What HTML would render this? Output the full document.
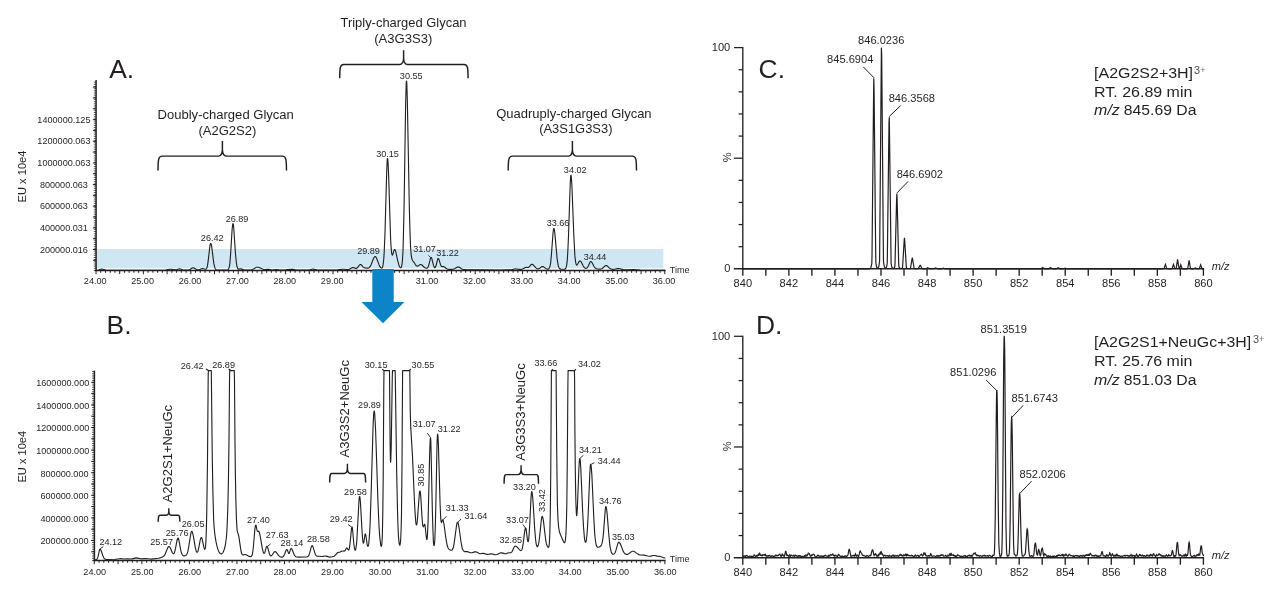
<!DOCTYPE html>
<html lang="en"><head><meta charset="utf-8"><title>Glycan chromatograms and mass spectra</title>
<style>
html,body{margin:0;padding:0;background:#fff;}
body{width:1280px;height:597px;overflow:hidden;}
svg{display:block;font-family:"Liberation Sans",Arial,Helvetica,sans-serif;}
</style></head><body>
<svg width="1280" height="597" viewBox="0 0 1280 597">
<rect width="1280" height="597" fill="#ffffff"/>
<rect x="97" y="249" width="566.3" height="19.3" fill="#cfe7f3"/>
<path d="M96.0,270.2L98.5,270.0L100.9,269.2L101.7,269.1L102.8,269.2L105.7,270.0L108.1,270.2L163.3,270.2L166.0,270.0L169.2,269.3L170.3,269.2L171.5,269.3L174.1,269.9L175.4,269.9L176.6,269.7L178.7,269.0L179.4,268.9L180.4,269.0L182.3,269.8L183.2,270.0L184.5,270.1L186.4,270.1L188.0,270.0L189.1,269.8L190.0,269.4L192.1,268.1L193.1,267.8L194.0,268.0L196.5,269.4L197.8,269.9L198.6,269.9L199.3,269.8L201.6,268.7L202.6,268.5L203.5,268.7L205.0,269.3L205.8,269.3L206.3,268.9L206.7,268.2L207.1,267.2L207.5,265.6L208.2,260.7L209.9,246.0L210.3,244.1L210.5,243.7L210.7,243.5L210.9,243.6L211.1,244.0L211.7,246.6L213.4,260.1L213.9,263.9L214.7,267.2L215.1,268.3L215.4,269.0L215.8,269.5L216.2,269.8L216.8,270.0L217.5,270.1L226.1,270.1L227.6,270.0L228.0,269.8L228.3,269.4L228.9,268.2L229.5,265.8L229.9,263.1L230.6,254.3L232.1,229.6L232.7,224.2L232.9,223.6L233.1,223.6L233.3,224.1L233.5,225.2L233.8,228.7L235.5,254.0L236.3,262.3L236.7,264.9L237.3,267.5L237.8,268.7L238.4,269.1L239.0,269.1L240.3,268.9L241.0,268.9L243.7,269.8L245.2,270.1L247.9,270.1L250.3,270.0L251.5,269.9L252.6,269.5L253.6,269.0L255.8,267.6L256.6,267.3L257.2,267.2L258.1,267.3L259.1,267.5L262.5,269.0L264.0,269.5L265.3,269.6L268.2,269.3L271.0,269.9L272.1,270.0L276.1,269.6L279.9,270.1L283.3,270.1L284.8,270.0L287.7,269.6L291.9,269.4L292.8,269.4L295.3,269.9L296.8,270.1L307.6,270.1L309.7,269.9L312.1,269.2L313.1,269.1L314.0,269.2L316.5,269.9L318.0,270.1L334.1,270.1L337.4,269.9L342.3,269.2L343.8,269.2L347.0,269.5L348.5,269.5L349.7,269.1L352.0,267.8L352.9,267.5L353.7,267.6L355.4,268.4L356.1,268.4L356.7,268.2L357.3,267.8L359.4,265.2L359.9,264.7L360.5,264.5L360.9,264.6L361.4,264.9L363.3,267.1L364.3,267.8L365.0,267.9L368.1,268.1L368.6,268.0L369.2,267.6L370.2,266.5L371.3,264.2L373.0,259.8L373.8,258.0L374.5,256.9L374.9,256.6L375.3,256.5L375.8,256.9L376.6,258.2L378.9,264.4L379.8,266.4L380.4,267.3L381.0,267.8L381.5,268.1L381.9,268.0L382.3,267.6L382.7,266.8L383.2,264.0L383.8,258.4L384.2,252.3L385.0,233.1L386.7,171.5L387.2,160.0L387.4,158.7L387.6,158.6L387.8,159.7L388.0,161.9L388.6,173.9L390.1,223.4L390.6,238.5L391.0,245.8L391.6,252.6L392.0,254.7L392.2,255.1L392.3,255.2L392.5,255.1L392.9,254.1L394.1,250.2L394.4,249.6L394.6,249.5L395.0,249.8L395.4,250.5L395.9,252.4L397.8,261.2L398.8,264.7L399.4,266.2L399.9,267.2L400.5,267.7L400.9,267.7L401.1,267.6L401.4,267.0L401.8,265.6L402.4,261.0L403.0,251.2L403.3,240.2L404.1,205.1L405.6,105.6L406.2,83.9L406.4,81.3L406.6,81.2L406.8,83.1L406.9,86.7L407.3,99.0L409.4,210.5L410.0,232.1L410.5,246.1L411.1,254.1L411.5,257.1L411.9,258.8L412.3,259.8L412.6,260.5L414.0,262.3L415.5,264.8L416.4,265.8L417.0,266.1L417.6,266.1L418.1,265.9L419.8,264.7L420.4,264.5L421.0,264.5L421.9,265.0L424.0,267.0L425.1,267.8L426.3,268.2L426.9,268.2L427.2,268.0L427.6,267.7L428.0,267.1L428.6,265.8L429.1,263.8L430.3,259.1L430.6,258.0L431.0,257.5L431.2,257.5L431.4,257.7L431.8,258.5L433.5,265.4L434.1,266.9L434.6,267.6L435.0,267.6L435.2,267.4L435.8,266.4L436.3,264.5L437.5,259.9L437.8,258.9L438.0,258.6L438.2,258.5L438.6,258.8L439.0,259.6L440.5,264.6L440.9,265.6L441.5,266.4L442.0,266.6L443.2,266.5L443.9,266.6L444.5,267.0L446.0,268.2L446.8,268.7L447.7,269.1L449.0,269.4L451.5,269.4L453.2,269.2L454.5,268.7L457.0,267.3L457.6,267.1L458.1,267.0L458.7,267.1L459.3,267.3L461.5,268.7L462.7,269.2L463.8,269.5L465.5,269.6L498.9,270.0L510.8,269.7L512.2,269.6L514.6,269.0L515.6,268.9L516.7,269.0L519.4,269.4L520.9,269.4L521.8,269.3L522.6,269.0L524.9,267.7L525.6,267.4L526.4,267.3L527.7,267.5L528.5,267.4L528.9,267.2L529.4,266.7L531.1,264.7L531.7,264.3L532.1,264.2L532.6,264.4L533.2,264.8L535.7,267.7L536.4,268.4L537.2,268.8L538.0,268.9L538.9,268.6L539.7,268.2L541.4,266.9L541.9,266.6L542.5,266.5L543.1,266.6L543.6,266.9L545.5,268.3L546.3,268.7L547.2,269.1L548.2,269.1L548.8,268.8L549.1,268.4L549.7,267.2L550.3,264.9L550.7,262.5L551.4,254.9L553.1,232.3L553.5,229.5L553.7,228.8L553.9,228.5L554.1,228.7L554.3,229.2L554.8,232.9L557.1,258.3L557.7,262.6L558.4,266.3L558.8,267.3L559.2,268.1L559.6,268.6L560.1,268.9L560.9,269.1L562.4,269.2L564.3,269.2L565.1,269.0L565.6,268.5L566.0,267.7L566.6,265.6L567.2,261.2L567.5,256.5L567.9,249.8L568.5,236.0L570.2,184.0L570.6,177.4L570.8,175.7L570.9,175.1L571.1,175.5L571.3,176.8L571.9,185.2L573.8,235.1L574.6,250.5L574.9,255.9L575.5,261.3L575.9,263.4L576.1,264.1L576.4,264.9L576.8,265.1L577.2,264.9L577.6,264.3L579.1,261.5L579.7,261.0L580.2,261.0L580.6,261.2L581.2,261.9L583.3,266.0L584.2,267.4L584.8,268.0L585.4,268.3L585.9,268.5L586.3,268.4L587.1,267.9L587.6,267.2L588.2,266.2L589.9,262.4L590.5,261.7L590.9,261.5L591.4,261.8L592.0,262.5L593.9,266.3L594.8,267.7L595.4,268.3L596.0,268.6L596.7,268.9L597.5,269.0L600.1,269.1L600.9,269.0L601.7,268.7L602.8,268.0L605.1,265.8L605.6,265.5L606.0,265.5L606.6,265.6L607.2,265.9L609.4,268.1L610.4,268.7L611.5,269.2L612.7,269.4L614.6,269.3L617.6,268.6L618.7,268.5L620.1,268.7L623.3,269.6L625.9,269.9L628.6,269.8L633.1,269.5L640.3,270.0L664.8,270.2" fill="none" stroke="#231f20" stroke-width="1.12" stroke-linejoin="round" stroke-linecap="round"/>
<line x1="96.10" y1="80.00" x2="96.10" y2="271.30" stroke="#231f20" stroke-width="1.5" stroke-linecap="butt"/>
<line x1="95.20" y1="270.50" x2="665.60" y2="270.50" stroke="#231f20" stroke-width="1.6" stroke-linecap="butt"/>
<path d="M93.80,270.50H96.00M93.80,268.33H96.00M93.80,266.17H96.00M93.80,264.00H96.00M93.80,261.84H96.00M93.80,259.67H96.00M93.80,257.51H96.00M93.80,255.34H96.00M93.80,253.18H96.00M93.80,251.01H96.00M93.80,248.85H96.00M93.80,246.68H96.00M93.80,244.52H96.00M93.80,242.35H96.00M93.80,240.19H96.00M93.80,238.02H96.00M93.80,235.86H96.00M93.80,233.69H96.00M93.80,231.53H96.00M93.80,229.36H96.00M93.80,227.20H96.00M93.80,225.03H96.00M93.80,222.87H96.00M93.80,220.71H96.00M93.80,218.54H96.00M93.80,216.38H96.00M93.80,214.21H96.00M93.80,212.05H96.00M93.80,209.88H96.00M93.80,207.72H96.00M93.80,205.55H96.00M93.80,203.39H96.00M93.80,201.22H96.00M93.80,199.06H96.00M93.80,196.89H96.00M93.80,194.73H96.00M93.80,192.56H96.00M93.80,190.40H96.00M93.80,188.23H96.00M93.80,186.07H96.00M93.80,183.90H96.00M93.80,181.74H96.00M93.80,179.57H96.00M93.80,177.41H96.00M93.80,175.24H96.00M93.80,173.08H96.00M93.80,170.91H96.00M93.80,168.75H96.00M93.80,166.58H96.00M93.80,164.42H96.00M93.80,162.25H96.00M93.80,160.09H96.00M93.80,157.92H96.00M93.80,155.76H96.00M93.80,153.59H96.00M93.80,151.43H96.00M93.80,149.26H96.00M93.80,147.10H96.00M93.80,144.93H96.00M93.80,142.77H96.00M93.80,140.60H96.00M93.80,138.44H96.00M93.80,136.27H96.00M93.80,134.11H96.00M93.80,131.94H96.00M93.80,129.78H96.00M93.80,127.61H96.00M93.80,125.45H96.00M93.80,123.28H96.00M93.80,121.12H96.00M93.80,118.95H96.00M93.80,116.79H96.00M93.80,114.62H96.00M93.80,112.46H96.00M93.80,110.29H96.00M93.80,108.13H96.00M93.80,105.96H96.00M93.80,103.80H96.00M93.80,101.63H96.00M93.80,99.47H96.00M93.80,97.30H96.00M93.80,95.14H96.00M93.80,92.97H96.00M93.80,90.81H96.00M93.80,88.64H96.00M93.80,86.48H96.00M93.80,84.31H96.00M93.80,82.15H96.00" stroke="#231f20" stroke-width="0.75" fill="none"/>
<line x1="92.90" y1="260.32" x2="96.00" y2="260.32" stroke="#231f20" stroke-width="1.0" stroke-linecap="butt"/>
<line x1="92.90" y1="249.50" x2="96.00" y2="249.50" stroke="#231f20" stroke-width="1.0" stroke-linecap="butt"/>
<line x1="92.90" y1="238.68" x2="96.00" y2="238.68" stroke="#231f20" stroke-width="1.0" stroke-linecap="butt"/>
<line x1="92.90" y1="227.85" x2="96.00" y2="227.85" stroke="#231f20" stroke-width="1.0" stroke-linecap="butt"/>
<line x1="92.90" y1="217.03" x2="96.00" y2="217.03" stroke="#231f20" stroke-width="1.0" stroke-linecap="butt"/>
<line x1="92.90" y1="206.20" x2="96.00" y2="206.20" stroke="#231f20" stroke-width="1.0" stroke-linecap="butt"/>
<line x1="92.90" y1="195.38" x2="96.00" y2="195.38" stroke="#231f20" stroke-width="1.0" stroke-linecap="butt"/>
<line x1="92.90" y1="184.55" x2="96.00" y2="184.55" stroke="#231f20" stroke-width="1.0" stroke-linecap="butt"/>
<line x1="92.90" y1="173.73" x2="96.00" y2="173.73" stroke="#231f20" stroke-width="1.0" stroke-linecap="butt"/>
<line x1="92.90" y1="162.90" x2="96.00" y2="162.90" stroke="#231f20" stroke-width="1.0" stroke-linecap="butt"/>
<line x1="92.90" y1="152.08" x2="96.00" y2="152.08" stroke="#231f20" stroke-width="1.0" stroke-linecap="butt"/>
<line x1="92.90" y1="141.25" x2="96.00" y2="141.25" stroke="#231f20" stroke-width="1.0" stroke-linecap="butt"/>
<line x1="92.90" y1="130.43" x2="96.00" y2="130.43" stroke="#231f20" stroke-width="1.0" stroke-linecap="butt"/>
<line x1="92.90" y1="119.60" x2="96.00" y2="119.60" stroke="#231f20" stroke-width="1.0" stroke-linecap="butt"/>
<line x1="92.90" y1="108.78" x2="96.00" y2="108.78" stroke="#231f20" stroke-width="1.0" stroke-linecap="butt"/>
<line x1="92.90" y1="97.95" x2="96.00" y2="97.95" stroke="#231f20" stroke-width="1.0" stroke-linecap="butt"/>
<line x1="92.90" y1="87.13" x2="96.00" y2="87.13" stroke="#231f20" stroke-width="1.0" stroke-linecap="butt"/>
<text transform="translate(63.90,252.70) scale(1.0,1)" font-size="9.1" text-anchor="middle" fill="#231f20">200000.016</text>
<text transform="translate(63.90,231.05) scale(1.0,1)" font-size="9.1" text-anchor="middle" fill="#231f20">400000.031</text>
<text transform="translate(63.90,209.40) scale(1.0,1)" font-size="9.1" text-anchor="middle" fill="#231f20">600000.063</text>
<text transform="translate(63.90,187.75) scale(1.0,1)" font-size="9.1" text-anchor="middle" fill="#231f20">800000.063</text>
<text transform="translate(63.90,166.10) scale(1.0,1)" font-size="9.1" text-anchor="middle" fill="#231f20">1000000.063</text>
<text transform="translate(63.90,144.45) scale(1.0,1)" font-size="9.1" text-anchor="middle" fill="#231f20">1200000.063</text>
<text transform="translate(63.90,122.80) scale(1.0,1)" font-size="9.1" text-anchor="middle" fill="#231f20">1400000.125</text>
<path d="M96.00,270.50v3.7M100.74,270.50v2.3M105.48,270.50v2.3M110.22,270.50v2.3M114.96,270.50v2.3M119.70,270.50v3.7M124.44,270.50v2.3M129.18,270.50v2.3M133.92,270.50v2.3M138.66,270.50v2.3M143.40,270.50v3.7M148.14,270.50v2.3M152.88,270.50v2.3M157.62,270.50v2.3M162.36,270.50v2.3M167.10,270.50v3.7M171.84,270.50v2.3M176.58,270.50v2.3M181.32,270.50v2.3M186.06,270.50v2.3M190.80,270.50v3.7M195.54,270.50v2.3M200.28,270.50v2.3M205.02,270.50v2.3M209.76,270.50v2.3M214.50,270.50v3.7M219.24,270.50v2.3M223.98,270.50v2.3M228.72,270.50v2.3M233.46,270.50v2.3M238.20,270.50v3.7M242.94,270.50v2.3M247.68,270.50v2.3M252.42,270.50v2.3M257.16,270.50v2.3M261.90,270.50v3.7M266.64,270.50v2.3M271.38,270.50v2.3M276.12,270.50v2.3M280.86,270.50v2.3M285.60,270.50v3.7M290.34,270.50v2.3M295.08,270.50v2.3M299.82,270.50v2.3M304.56,270.50v2.3M309.30,270.50v3.7M314.04,270.50v2.3M318.78,270.50v2.3M323.52,270.50v2.3M328.26,270.50v2.3M333.00,270.50v3.7M337.74,270.50v2.3M342.48,270.50v2.3M347.22,270.50v2.3M351.96,270.50v2.3M356.70,270.50v3.7M361.44,270.50v2.3M366.18,270.50v2.3M370.92,270.50v2.3M375.66,270.50v2.3M380.40,270.50v3.7M385.14,270.50v2.3M389.88,270.50v2.3M394.62,270.50v2.3M399.36,270.50v2.3M404.10,270.50v3.7M408.84,270.50v2.3M413.58,270.50v2.3M418.32,270.50v2.3M423.06,270.50v2.3M427.80,270.50v3.7M432.54,270.50v2.3M437.28,270.50v2.3M442.02,270.50v2.3M446.76,270.50v2.3M451.50,270.50v3.7M456.24,270.50v2.3M460.98,270.50v2.3M465.72,270.50v2.3M470.46,270.50v2.3M475.20,270.50v3.7M479.94,270.50v2.3M484.68,270.50v2.3M489.42,270.50v2.3M494.16,270.50v2.3M498.90,270.50v3.7M503.64,270.50v2.3M508.38,270.50v2.3M513.12,270.50v2.3M517.86,270.50v2.3M522.60,270.50v3.7M527.34,270.50v2.3M532.08,270.50v2.3M536.82,270.50v2.3M541.56,270.50v2.3M546.30,270.50v3.7M551.04,270.50v2.3M555.78,270.50v2.3M560.52,270.50v2.3M565.26,270.50v2.3M570.00,270.50v3.7M574.74,270.50v2.3M579.48,270.50v2.3M584.22,270.50v2.3M588.96,270.50v2.3M593.70,270.50v3.7M598.44,270.50v2.3M603.18,270.50v2.3M607.92,270.50v2.3M612.66,270.50v2.3M617.40,270.50v3.7M622.14,270.50v2.3M626.88,270.50v2.3M631.62,270.50v2.3M636.36,270.50v2.3M641.10,270.50v3.7M645.84,270.50v2.3M650.58,270.50v2.3M655.32,270.50v2.3M660.06,270.50v2.3M664.80,270.50v3.7" stroke="#231f20" stroke-width="1" fill="none"/>
<text transform="translate(95.20,284.40) scale(1.0,1)" font-size="9.1" text-anchor="middle" fill="#231f20">24.00</text>
<text transform="translate(142.60,284.40) scale(1.0,1)" font-size="9.1" text-anchor="middle" fill="#231f20">25.00</text>
<text transform="translate(190.00,284.40) scale(1.0,1)" font-size="9.1" text-anchor="middle" fill="#231f20">26.00</text>
<text transform="translate(237.40,284.40) scale(1.0,1)" font-size="9.1" text-anchor="middle" fill="#231f20">27.00</text>
<text transform="translate(284.80,284.40) scale(1.0,1)" font-size="9.1" text-anchor="middle" fill="#231f20">28.00</text>
<text transform="translate(332.20,284.40) scale(1.0,1)" font-size="9.1" text-anchor="middle" fill="#231f20">29.00</text>
<text transform="translate(427.00,284.40) scale(1.0,1)" font-size="9.1" text-anchor="middle" fill="#231f20">31.00</text>
<text transform="translate(474.40,284.40) scale(1.0,1)" font-size="9.1" text-anchor="middle" fill="#231f20">32.00</text>
<text transform="translate(521.80,284.40) scale(1.0,1)" font-size="9.1" text-anchor="middle" fill="#231f20">33.00</text>
<text transform="translate(569.20,284.40) scale(1.0,1)" font-size="9.1" text-anchor="middle" fill="#231f20">34.00</text>
<text transform="translate(616.60,284.40) scale(1.0,1)" font-size="9.1" text-anchor="middle" fill="#231f20">35.00</text>
<text transform="translate(664.00,284.40) scale(1.0,1)" font-size="9.1" text-anchor="middle" fill="#231f20">36.00</text>
<text transform="translate(669.70,273.30) scale(1.0,1)" font-size="9.1" text-anchor="start" fill="#231f20">Time</text>
<text transform="translate(26.20,176.50) rotate(-90) scale(1.0,1)" font-size="11.1" text-anchor="middle" fill="#231f20">EU x 10e4</text>
<text transform="translate(109.20,78.00) scale(1.0,1)" font-size="26.4" text-anchor="start" fill="#231f20">A.</text>
<text transform="translate(403.50,27.00) scale(1.0,1)" font-size="12.95" text-anchor="middle" fill="#231f20">Triply-charged Glycan</text>
<text transform="translate(403.30,42.60) scale(1.0,1)" font-size="13.1" text-anchor="middle" fill="#231f20">(A3G3S3)</text>
<path d="M339.70,78.20 C339.80,67.55 340.10,64.40 343.80,64.40 L399.60,64.40 C402.30,64.40 403.45,62.80 403.60,57.90 L403.60,50.30 M403.60,57.90 C403.75,62.80 404.90,64.40 407.60,64.40 L464.00,64.40 C467.70,64.40 468.00,67.55 468.10,78.20" fill="none" stroke="#231f20" stroke-width="1.45" stroke-linecap="butt" stroke-linejoin="round"/>
<text transform="translate(225.70,118.80) scale(1.0,1)" font-size="13.05" text-anchor="middle" fill="#231f20">Doubly-charged Glycan</text>
<text transform="translate(227.40,134.70) scale(1.0,1)" font-size="13.05" text-anchor="middle" fill="#231f20">(A2G2S2)</text>
<path d="M158.00,170.40 C158.10,159.25 158.40,156.10 162.10,156.10 L218.40,156.10 C221.10,156.10 222.25,154.50 222.40,149.60 L222.40,141.10 M222.40,149.60 C222.55,154.50 223.70,156.10 226.40,156.10 L282.40,156.10 C286.10,156.10 286.40,159.25 286.50,170.40" fill="none" stroke="#231f20" stroke-width="1.45" stroke-linecap="butt" stroke-linejoin="round"/>
<text transform="translate(573.90,117.50) scale(1.0,1)" font-size="13.0" text-anchor="middle" fill="#231f20">Quadruply-charged Glycan</text>
<text transform="translate(575.80,132.80) scale(1.0,1)" font-size="12.95" text-anchor="middle" fill="#231f20">(A3S1G3S3)</text>
<path d="M508.20,170.40 C508.30,159.25 508.60,156.10 512.30,156.10 L568.40,156.10 C571.10,156.10 572.25,154.50 572.40,149.60 L572.40,141.10 M572.40,149.60 C572.55,154.50 573.70,156.10 576.40,156.10 L632.40,156.10 C636.10,156.10 636.40,159.25 636.50,170.40" fill="none" stroke="#231f20" stroke-width="1.45" stroke-linecap="butt" stroke-linejoin="round"/>
<text transform="translate(212.20,241.30) scale(1.0,1)" font-size="9.1" text-anchor="middle" fill="#231f20">26.42</text>
<text transform="translate(237.00,221.50) scale(1.0,1)" font-size="9.1" text-anchor="middle" fill="#231f20">26.89</text>
<text transform="translate(368.50,254.30) scale(1.0,1)" font-size="9.1" text-anchor="middle" fill="#231f20">29.89</text>
<text transform="translate(387.50,156.50) scale(1.0,1)" font-size="9.1" text-anchor="middle" fill="#231f20">30.15</text>
<text transform="translate(411.20,78.80) scale(1.0,1)" font-size="9.1" text-anchor="middle" fill="#231f20">30.55</text>
<text transform="translate(424.50,251.50) scale(1.0,1)" font-size="9.1" text-anchor="middle" fill="#231f20">31.07</text>
<text transform="translate(447.50,255.50) scale(1.0,1)" font-size="9.1" text-anchor="middle" fill="#231f20">31.22</text>
<text transform="translate(558.00,226.20) scale(1.0,1)" font-size="9.1" text-anchor="middle" fill="#231f20">33.66</text>
<text transform="translate(575.20,172.90) scale(1.0,1)" font-size="9.1" text-anchor="middle" fill="#231f20">34.02</text>
<text transform="translate(595.00,259.50) scale(1.0,1)" font-size="9.1" text-anchor="middle" fill="#231f20">34.44</text>
<line x1="428.50" y1="255.40" x2="431.00" y2="257.90" stroke="#231f20" stroke-width="0.9" stroke-linecap="butt"/>
<path d="M372.3,269.1H393.7V301.9H404.4L383,323.3L361.5,301.9H372.3Z" fill="#0c84c8"/>
<path d="M94.3,559.7L95.6,559.7L96.4,559.5L97.0,559.1L97.3,558.6L97.7,557.7L98.1,556.4L99.4,550.3L99.8,549.3L100.0,549.2L100.4,549.4L101.0,550.3L102.9,555.8L103.8,557.8L104.2,558.4L104.8,558.9L105.3,559.2L106.1,559.4L107.8,559.5L114.8,559.3L116.4,559.2L119.2,558.7L120.4,558.6L124.4,559.0L127.6,558.9L131.0,559.0L132.3,558.9L135.0,558.1L136.1,557.9L137.7,558.1L140.7,558.8L142.0,558.9L145.8,558.5L149.6,559.0L151.4,559.1L158.6,558.3L160.9,557.6L162.2,557.1L163.5,556.2L164.1,555.7L164.9,554.6L165.4,553.5L167.7,547.9L168.3,546.9L168.9,546.5L169.0,546.5L169.4,546.7L170.0,547.4L170.6,548.5L172.1,552.2L172.7,553.2L173.2,553.7L173.6,553.7L173.8,553.6L174.4,552.7L174.9,551.0L175.5,548.4L177.0,540.3L177.6,538.5L177.8,538.2L178.0,538.1L178.2,538.2L178.4,538.4L178.9,540.2L180.8,550.3L181.2,551.9L181.8,553.7L182.4,554.8L183.1,555.6L184.1,555.9L185.2,555.8L186.0,555.4L186.7,554.5L187.3,553.2L187.9,551.3L188.8,546.4L190.7,534.1L191.3,531.9L191.7,531.3L191.9,531.3L192.3,531.8L192.8,533.6L193.4,536.4L195.3,547.6L196.1,550.7L196.6,552.0L197.0,552.3L197.4,552.1L197.8,551.5L198.1,550.5L198.7,548.1L200.2,540.2L200.8,538.2L201.2,537.5L201.4,537.5L201.6,537.6L201.8,537.9L202.1,538.9L204.0,547.6L204.6,549.2L204.8,549.3L205.0,549.2L205.4,547.9L205.6,546.5L205.9,541.3L206.3,531.8L206.7,516.0L207.5,460.2L208.2,375.2L208.4,370.6L211.3,370.6L212.2,452.1L212.8,488.3L213.4,510.8L213.7,520.2L214.1,526.6L214.7,533.0L215.3,537.3L216.0,541.7L217.0,546.1L217.9,549.4L218.7,551.3L219.6,552.9L220.2,553.5L220.8,553.8L221.4,553.9L221.9,553.6L222.5,553.1L223.1,552.2L223.6,551.1L224.2,549.5L225.2,546.0L225.7,542.8L226.3,538.2L226.9,531.3L227.2,524.4L227.8,508.4L228.4,481.9L229.0,440.5L229.5,382.1L229.7,370.6L234.3,370.6L234.5,381.4L235.0,443.4L235.4,474.4L235.8,497.2L236.4,518.4L236.8,526.0L237.1,530.1L237.5,532.1L238.3,534.3L238.9,536.9L240.6,548.4L241.3,552.3L241.9,554.0L242.3,554.6L242.7,554.9L243.2,555.0L244.6,554.5L245.3,554.5L246.1,554.8L248.4,556.1L249.1,556.4L250.1,556.6L251.0,556.5L251.4,556.2L251.8,555.7L252.4,554.2L252.9,551.0L253.5,545.8L254.8,529.9L255.4,525.8L255.6,525.3L255.8,525.1L256.0,525.4L256.2,526.0L256.9,529.7L257.3,531.0L257.7,531.5L257.9,531.5L258.4,531.1L258.6,531.1L258.8,531.3L259.6,533.3L260.3,536.6L262.4,548.9L263.2,552.0L263.8,553.2L264.1,553.4L264.3,553.3L264.7,552.7L265.1,551.6L266.2,547.4L266.6,546.6L266.8,546.4L267.0,546.4L267.4,546.9L267.8,547.8L269.5,554.0L270.0,555.3L270.4,555.7L271.0,555.9L271.6,555.6L272.1,555.0L274.0,552.2L274.6,551.7L275.2,551.6L275.8,551.9L276.3,552.4L278.2,555.0L279.2,556.1L280.3,556.8L280.9,557.0L281.6,557.1L282.2,557.1L282.8,556.9L283.4,556.4L283.7,555.9L284.5,554.5L286.0,550.5L286.4,549.8L286.8,549.5L287.0,549.5L287.4,550.0L288.5,553.1L288.9,553.5L289.1,553.5L289.3,553.3L289.6,552.4L290.6,549.2L291.0,548.5L291.2,548.4L291.5,548.6L292.1,549.4L293.8,553.8L294.4,555.1L295.2,556.1L295.9,556.7L296.9,557.0L298.2,557.1L306.2,557.0L306.9,556.9L307.5,556.8L308.3,556.2L309.0,554.9L309.8,552.6L311.3,546.7L311.7,545.9L312.1,545.6L312.5,545.8L313.0,546.9L314.6,552.1L315.3,554.2L315.9,555.3L316.3,555.7L316.6,556.0L317.4,556.2L319.1,556.2L322.0,556.5L322.9,556.4L324.6,556.0L325.6,556.0L326.3,556.1L328.6,556.9L329.8,557.1L332.1,556.7L334.3,556.2L337.8,552.5L340.0,552.1L342.3,551.0L342.9,551.0L344.0,551.1L344.6,551.0L345.2,550.4L346.3,548.3L346.7,548.0L346.9,548.0L347.3,548.4L348.2,549.9L348.4,550.0L348.6,550.0L348.8,549.9L349.2,549.0L349.4,548.2L349.7,546.0L350.3,540.9L351.3,530.6L351.6,527.9L351.8,527.1L352.0,526.9L352.2,527.2L352.6,529.5L353.7,542.5L354.3,547.5L354.7,549.4L354.9,549.9L355.1,550.2L355.3,550.2L355.6,549.5L356.0,547.8L356.4,544.9L356.8,540.7L357.3,531.8L358.9,502.3L359.2,497.9L359.4,496.8L359.6,496.4L359.8,496.7L360.0,497.8L360.4,501.7L362.1,532.4L362.5,537.7L362.9,541.3L363.1,542.4L363.2,543.0L363.4,543.2L363.6,542.9L364.0,541.1L365.0,534.7L365.1,534.1L365.3,533.9L365.5,534.1L365.9,535.5L367.0,543.4L367.4,545.4L367.8,546.4L368.0,546.4L368.2,546.2L368.6,544.7L368.8,543.4L369.1,539.9L369.7,531.7L370.1,524.1L371.0,497.5L372.6,442.4L373.1,425.1L373.7,414.0L373.9,412.0L374.1,411.0L374.3,411.0L374.5,411.7L374.8,415.3L375.6,430.3L377.9,500.0L378.5,514.6L379.0,526.3L379.6,535.0L380.2,541.1L380.6,543.9L380.9,545.7L381.1,546.1L381.3,546.3L381.5,545.9L381.9,543.4L382.3,536.8L382.6,523.1L382.8,512.1L383.2,478.5L383.8,386.3L384.0,370.6L389.5,370.6L390.1,441.7L390.3,453.6L390.4,460.1L390.6,462.1L390.8,460.2L391.2,447.6L392.3,376.8L392.5,370.6L395.0,370.6L395.2,370.7L396.7,473.7L397.5,510.7L397.9,523.2L398.4,535.6L399.0,542.3L399.2,543.6L399.6,545.0L399.8,545.2L400.0,545.1L400.1,544.5L400.5,541.6L400.7,539.0L401.1,530.2L401.5,513.8L402.0,464.8L402.6,370.7L402.8,370.6L409.7,370.6L409.8,371.3L410.2,406.8L410.4,417.0L410.8,428.4L412.5,456.4L414.4,500.1L415.0,511.4L415.7,521.5L416.1,524.1L416.3,524.7L416.5,524.9L416.7,524.6L416.9,523.8L417.3,521.1L417.8,514.4L419.2,495.7L419.5,492.4L419.7,491.5L419.9,491.0L420.1,491.1L420.3,491.9L420.7,495.4L422.0,517.2L422.4,522.2L422.8,525.4L423.0,526.2L423.2,526.7L423.3,526.8L423.5,526.5L424.3,524.6L424.5,524.4L424.7,524.4L424.9,524.7L425.2,526.8L426.4,537.8L426.6,538.9L426.8,539.5L427.0,539.4L427.2,538.5L427.3,536.9L427.5,534.3L428.1,520.8L429.6,456.0L430.0,443.7L430.2,440.0L430.4,438.0L430.6,438.1L430.8,440.6L431.1,452.0L432.3,508.5L432.9,529.9L433.4,541.7L433.6,543.8L433.8,545.1L434.0,545.6L434.2,545.4L434.4,544.5L434.8,540.2L435.3,526.4L435.9,502.6L437.0,445.0L437.4,435.3L437.6,434.0L437.8,434.7L438.0,436.7L438.4,444.6L440.1,504.3L440.5,513.5L440.8,519.4L441.0,521.0L441.2,522.0L441.4,522.4L441.6,522.3L441.8,521.9L442.4,520.0L442.6,519.7L442.7,519.7L442.9,520.0L443.3,521.0L444.1,524.9L445.6,536.3L446.6,542.4L447.3,545.8L448.1,547.9L448.6,548.8L449.2,549.4L450.0,549.9L450.9,550.2L451.5,550.2L452.1,549.9L452.6,549.2L453.0,548.3L453.6,546.3L454.3,542.1L456.1,528.7L456.6,524.9L457.2,522.6L457.4,522.3L457.6,522.2L457.8,522.3L458.2,523.1L458.7,525.6L459.3,529.2L460.8,540.5L461.8,546.1L462.1,547.7L462.7,549.4L463.3,550.6L463.9,551.2L464.2,551.4L464.8,551.6L466.5,551.5L467.5,551.6L468.2,551.9L469.9,552.6L470.9,552.8L472.0,552.8L474.5,551.9L475.7,551.8L476.6,552.0L478.9,553.3L480.0,553.7L480.8,553.7L482.5,553.4L483.3,553.4L484.2,553.6L486.5,554.3L487.6,554.4L488.8,554.3L490.9,553.9L491.8,553.8L492.6,554.0L494.5,554.6L495.8,554.8L497.1,554.5L499.6,553.2L500.6,552.8L501.9,552.9L504.4,553.6L505.5,553.8L506.5,553.6L508.7,552.7L510.5,552.6L511.0,552.5L511.6,552.1L512.2,551.3L514.1,547.3L514.6,546.4L515.0,546.1L515.8,546.2L516.7,546.7L517.5,547.4L519.4,549.6L520.2,550.3L520.7,550.6L521.3,550.5L521.7,550.0L522.1,549.2L522.6,546.9L523.2,543.4L524.7,531.2L525.1,529.1L525.5,528.2L525.7,528.1L525.9,528.5L526.1,529.2L526.4,531.6L527.4,539.3L527.8,541.3L528.0,541.7L528.1,541.7L528.3,541.3L528.5,540.4L528.7,539.0L529.1,534.8L529.7,525.1L531.0,497.9L531.4,493.3L531.6,492.0L531.8,491.6L532.0,491.8L532.1,492.5L532.7,497.4L533.3,505.5L534.6,527.6L535.4,537.3L535.9,542.2L536.3,544.4L536.7,545.8L537.1,546.6L537.3,546.8L537.5,546.8L537.7,546.6L538.2,545.3L538.6,543.7L539.0,541.5L539.6,536.9L541.3,520.3L541.8,517.1L542.0,516.6L542.2,516.4L542.4,516.5L542.8,517.5L543.4,520.6L545.3,536.8L545.8,540.7L546.4,543.7L547.0,545.6L547.4,546.5L547.7,547.1L548.1,547.4L548.3,547.4L548.7,547.0L548.9,546.5L549.3,544.2L549.4,542.1L549.8,534.2L550.2,518.2L550.4,505.6L550.8,467.0L551.4,370.6L556.1,370.6L556.7,449.5L557.1,483.5L557.4,504.0L558.0,519.8L558.6,526.9L559.0,529.5L559.5,532.1L560.3,534.3L563.3,541.3L564.1,542.6L564.5,542.8L564.7,542.8L565.0,542.0L565.4,540.1L565.8,535.9L566.0,532.6L566.4,522.5L566.8,505.6L567.3,461.3L567.9,384.6L568.1,370.6L574.4,370.6L574.6,378.7L574.9,432.1L575.3,469.7L575.7,494.3L575.9,502.5L576.3,512.6L576.5,514.9L576.6,515.7L576.8,515.2L577.0,513.5L577.4,507.4L578.9,468.1L579.3,461.4L579.5,459.5L579.7,458.5L579.9,458.5L580.3,460.7L580.8,468.6L582.7,512.5L583.5,526.9L584.3,536.4L584.6,539.4L585.2,541.9L585.4,542.2L585.6,542.3L585.8,542.2L586.2,541.1L586.7,537.2L587.1,533.0L587.5,527.2L588.1,515.8L589.8,473.8L590.3,465.8L590.5,464.6L590.7,464.2L590.9,464.6L591.3,467.2L591.9,475.4L593.8,517.6L594.7,533.4L595.1,537.7L595.7,542.3L596.2,545.0L596.6,546.1L597.0,546.8L597.6,547.3L598.1,547.3L599.3,547.0L600.4,546.2L601.0,545.7L601.6,544.7L601.9,543.7L602.3,542.2L602.9,538.5L603.5,532.9L605.2,510.2L605.6,507.3L605.7,506.7L605.9,506.6L606.1,507.0L606.5,508.6L607.1,513.4L609.0,536.8L609.9,545.6L610.5,549.0L611.1,551.4L611.8,553.2L612.6,554.1L613.4,554.2L613.9,554.0L614.5,553.6L615.1,552.7L616.0,550.2L617.9,543.4L618.5,542.3L618.9,542.2L619.4,542.6L620.2,543.7L621.0,545.5L622.7,549.9L623.6,551.9L624.2,552.8L624.8,553.5L625.3,554.0L625.9,554.2L626.9,554.4L628.0,554.1L629.1,553.5L631.6,551.6L632.4,551.3L633.1,551.2L633.7,551.3L634.5,551.6L637.9,554.1L638.8,554.6L639.8,554.9L640.7,555.0L644.0,555.1L647.6,556.0L649.1,556.2L650.6,556.1L653.5,555.5L654.6,555.5L657.3,556.1L660.1,556.4L663.2,557.6L664.9,558.0" fill="none" stroke="#231f20" stroke-width="1.12" stroke-linejoin="round" stroke-linecap="round"/>
<line x1="94.40" y1="370.60" x2="94.40" y2="561.30" stroke="#231f20" stroke-width="1.5" stroke-linecap="butt"/>
<line x1="93.50" y1="560.50" x2="665.60" y2="560.50" stroke="#231f20" stroke-width="1.6" stroke-linecap="butt"/>
<path d="M92.10,560.50H94.30M92.10,558.25H94.30M92.10,556.00H94.30M92.10,553.75H94.30M92.10,551.50H94.30M92.10,549.25H94.30M92.10,547.00H94.30M92.10,544.75H94.30M92.10,542.50H94.30M92.10,540.25H94.30M92.10,538.00H94.30M92.10,535.75H94.30M92.10,533.50H94.30M92.10,531.25H94.30M92.10,529.00H94.30M92.10,526.75H94.30M92.10,524.50H94.30M92.10,522.25H94.30M92.10,520.00H94.30M92.10,517.75H94.30M92.10,515.50H94.30M92.10,513.25H94.30M92.10,511.00H94.30M92.10,508.75H94.30M92.10,506.50H94.30M92.10,504.25H94.30M92.10,502.00H94.30M92.10,499.75H94.30M92.10,497.50H94.30M92.10,495.25H94.30M92.10,493.00H94.30M92.10,490.75H94.30M92.10,488.50H94.30M92.10,486.25H94.30M92.10,484.00H94.30M92.10,481.75H94.30M92.10,479.50H94.30M92.10,477.25H94.30M92.10,475.00H94.30M92.10,472.75H94.30M92.10,470.50H94.30M92.10,468.25H94.30M92.10,466.00H94.30M92.10,463.75H94.30M92.10,461.50H94.30M92.10,459.25H94.30M92.10,457.00H94.30M92.10,454.75H94.30M92.10,452.50H94.30M92.10,450.25H94.30M92.10,448.00H94.30M92.10,445.75H94.30M92.10,443.50H94.30M92.10,441.25H94.30M92.10,439.00H94.30M92.10,436.75H94.30M92.10,434.50H94.30M92.10,432.25H94.30M92.10,430.00H94.30M92.10,427.75H94.30M92.10,425.50H94.30M92.10,423.25H94.30M92.10,421.00H94.30M92.10,418.75H94.30M92.10,416.50H94.30M92.10,414.25H94.30M92.10,412.00H94.30M92.10,409.75H94.30M92.10,407.50H94.30M92.10,405.25H94.30M92.10,403.00H94.30M92.10,400.75H94.30M92.10,398.50H94.30M92.10,396.25H94.30M92.10,394.00H94.30M92.10,391.75H94.30M92.10,389.50H94.30M92.10,387.25H94.30M92.10,385.00H94.30M92.10,382.75H94.30M92.10,380.50H94.30M92.10,378.25H94.30M92.10,376.00H94.30M92.10,373.75H94.30M92.10,371.50H94.30" stroke="#231f20" stroke-width="0.75" fill="none"/>
<line x1="91.20" y1="551.80" x2="94.30" y2="551.80" stroke="#231f20" stroke-width="1.0" stroke-linecap="butt"/>
<line x1="91.20" y1="540.50" x2="94.30" y2="540.50" stroke="#231f20" stroke-width="1.0" stroke-linecap="butt"/>
<line x1="91.20" y1="529.20" x2="94.30" y2="529.20" stroke="#231f20" stroke-width="1.0" stroke-linecap="butt"/>
<line x1="91.20" y1="517.90" x2="94.30" y2="517.90" stroke="#231f20" stroke-width="1.0" stroke-linecap="butt"/>
<line x1="91.20" y1="506.60" x2="94.30" y2="506.60" stroke="#231f20" stroke-width="1.0" stroke-linecap="butt"/>
<line x1="91.20" y1="495.30" x2="94.30" y2="495.30" stroke="#231f20" stroke-width="1.0" stroke-linecap="butt"/>
<line x1="91.20" y1="484.00" x2="94.30" y2="484.00" stroke="#231f20" stroke-width="1.0" stroke-linecap="butt"/>
<line x1="91.20" y1="472.70" x2="94.30" y2="472.70" stroke="#231f20" stroke-width="1.0" stroke-linecap="butt"/>
<line x1="91.20" y1="461.40" x2="94.30" y2="461.40" stroke="#231f20" stroke-width="1.0" stroke-linecap="butt"/>
<line x1="91.20" y1="450.10" x2="94.30" y2="450.10" stroke="#231f20" stroke-width="1.0" stroke-linecap="butt"/>
<line x1="91.20" y1="438.80" x2="94.30" y2="438.80" stroke="#231f20" stroke-width="1.0" stroke-linecap="butt"/>
<line x1="91.20" y1="427.50" x2="94.30" y2="427.50" stroke="#231f20" stroke-width="1.0" stroke-linecap="butt"/>
<line x1="91.20" y1="416.20" x2="94.30" y2="416.20" stroke="#231f20" stroke-width="1.0" stroke-linecap="butt"/>
<line x1="91.20" y1="404.90" x2="94.30" y2="404.90" stroke="#231f20" stroke-width="1.0" stroke-linecap="butt"/>
<line x1="91.20" y1="393.60" x2="94.30" y2="393.60" stroke="#231f20" stroke-width="1.0" stroke-linecap="butt"/>
<line x1="91.20" y1="382.30" x2="94.30" y2="382.30" stroke="#231f20" stroke-width="1.0" stroke-linecap="butt"/>
<text transform="translate(88.50,544.30) scale(1.0,1)" font-size="9.1" text-anchor="end" fill="#231f20">200000.000</text>
<text transform="translate(88.50,521.70) scale(1.0,1)" font-size="9.1" text-anchor="end" fill="#231f20">400000.000</text>
<text transform="translate(88.50,499.10) scale(1.0,1)" font-size="9.1" text-anchor="end" fill="#231f20">600000.000</text>
<text transform="translate(88.50,476.50) scale(1.0,1)" font-size="9.1" text-anchor="end" fill="#231f20">800000.000</text>
<text transform="translate(89.30,453.90) scale(1.0,1)" font-size="9.1" text-anchor="end" fill="#231f20">1000000.000</text>
<text transform="translate(89.30,431.30) scale(1.0,1)" font-size="9.1" text-anchor="end" fill="#231f20">1200000.000</text>
<text transform="translate(89.30,408.70) scale(1.0,1)" font-size="9.1" text-anchor="end" fill="#231f20">1400000.000</text>
<text transform="translate(89.30,386.10) scale(1.0,1)" font-size="9.1" text-anchor="end" fill="#231f20">1600000.000</text>
<path d="M94.30,560.50v3.7M99.06,560.50v2.3M103.81,560.50v2.3M108.57,560.50v2.3M113.32,560.50v2.3M118.07,560.50v3.7M122.83,560.50v2.3M127.58,560.50v2.3M132.34,560.50v2.3M137.09,560.50v2.3M141.85,560.50v3.7M146.61,560.50v2.3M151.36,560.50v2.3M156.12,560.50v2.3M160.87,560.50v2.3M165.62,560.50v3.7M170.38,560.50v2.3M175.13,560.50v2.3M179.89,560.50v2.3M184.64,560.50v2.3M189.40,560.50v3.7M194.16,560.50v2.3M198.91,560.50v2.3M203.67,560.50v2.3M208.42,560.50v2.3M213.18,560.50v3.7M217.93,560.50v2.3M222.68,560.50v2.3M227.44,560.50v2.3M232.19,560.50v2.3M236.95,560.50v3.7M241.71,560.50v2.3M246.46,560.50v2.3M251.22,560.50v2.3M255.97,560.50v2.3M260.72,560.50v3.7M265.48,560.50v2.3M270.23,560.50v2.3M274.99,560.50v2.3M279.74,560.50v2.3M284.50,560.50v3.7M289.26,560.50v2.3M294.01,560.50v2.3M298.77,560.50v2.3M303.52,560.50v2.3M308.27,560.50v3.7M313.03,560.50v2.3M317.78,560.50v2.3M322.54,560.50v2.3M327.29,560.50v2.3M332.05,560.50v3.7M336.81,560.50v2.3M341.56,560.50v2.3M346.31,560.50v2.3M351.07,560.50v2.3M355.82,560.50v3.7M360.58,560.50v2.3M365.33,560.50v2.3M370.09,560.50v2.3M374.84,560.50v2.3M379.60,560.50v3.7M384.36,560.50v2.3M389.11,560.50v2.3M393.87,560.50v2.3M398.62,560.50v2.3M403.38,560.50v3.7M408.13,560.50v2.3M412.88,560.50v2.3M417.64,560.50v2.3M422.39,560.50v2.3M427.15,560.50v3.7M431.91,560.50v2.3M436.66,560.50v2.3M441.42,560.50v2.3M446.17,560.50v2.3M450.93,560.50v3.7M455.68,560.50v2.3M460.43,560.50v2.3M465.19,560.50v2.3M469.94,560.50v2.3M474.70,560.50v3.7M479.46,560.50v2.3M484.21,560.50v2.3M488.96,560.50v2.3M493.72,560.50v2.3M498.47,560.50v3.7M503.23,560.50v2.3M507.99,560.50v2.3M512.74,560.50v2.3M517.49,560.50v2.3M522.25,560.50v3.7M527.00,560.50v2.3M531.76,560.50v2.3M536.51,560.50v2.3M541.27,560.50v2.3M546.02,560.50v3.7M550.78,560.50v2.3M555.54,560.50v2.3M560.29,560.50v2.3M565.04,560.50v2.3M569.80,560.50v3.7M574.56,560.50v2.3M579.31,560.50v2.3M584.06,560.50v2.3M588.82,560.50v2.3M593.57,560.50v3.7M598.33,560.50v2.3M603.09,560.50v2.3M607.84,560.50v2.3M612.59,560.50v2.3M617.35,560.50v3.7M622.11,560.50v2.3M626.86,560.50v2.3M631.61,560.50v2.3M636.37,560.50v2.3M641.12,560.50v3.7M645.88,560.50v2.3M650.64,560.50v2.3M655.39,560.50v2.3M660.14,560.50v2.3M664.90,560.50v3.7" stroke="#231f20" stroke-width="1" fill="none"/>
<text transform="translate(94.70,574.80) scale(1.0,1)" font-size="9.1" text-anchor="middle" fill="#231f20">24.00</text>
<text transform="translate(142.25,574.80) scale(1.0,1)" font-size="9.1" text-anchor="middle" fill="#231f20">25.00</text>
<text transform="translate(189.80,574.80) scale(1.0,1)" font-size="9.1" text-anchor="middle" fill="#231f20">26.00</text>
<text transform="translate(237.35,574.80) scale(1.0,1)" font-size="9.1" text-anchor="middle" fill="#231f20">27.00</text>
<text transform="translate(284.90,574.80) scale(1.0,1)" font-size="9.1" text-anchor="middle" fill="#231f20">28.00</text>
<text transform="translate(332.45,574.80) scale(1.0,1)" font-size="9.1" text-anchor="middle" fill="#231f20">29.00</text>
<text transform="translate(380.00,574.80) scale(1.0,1)" font-size="9.1" text-anchor="middle" fill="#231f20">30.00</text>
<text transform="translate(427.55,574.80) scale(1.0,1)" font-size="9.1" text-anchor="middle" fill="#231f20">31.00</text>
<text transform="translate(475.10,574.80) scale(1.0,1)" font-size="9.1" text-anchor="middle" fill="#231f20">32.00</text>
<text transform="translate(522.65,574.80) scale(1.0,1)" font-size="9.1" text-anchor="middle" fill="#231f20">33.00</text>
<text transform="translate(570.20,574.80) scale(1.0,1)" font-size="9.1" text-anchor="middle" fill="#231f20">34.00</text>
<text transform="translate(617.75,574.80) scale(1.0,1)" font-size="9.1" text-anchor="middle" fill="#231f20">35.00</text>
<text transform="translate(665.30,574.80) scale(1.0,1)" font-size="9.1" text-anchor="middle" fill="#231f20">36.00</text>
<text transform="translate(669.70,561.60) scale(1.0,1)" font-size="9.1" text-anchor="start" fill="#231f20">Time</text>
<text transform="translate(26.20,456.70) rotate(-90) scale(1.0,1)" font-size="11.1" text-anchor="middle" fill="#231f20">EU x 10e4</text>
<text transform="translate(106.60,333.60) scale(1.0,1)" font-size="26.4" text-anchor="start" fill="#231f20">B.</text>
<text transform="translate(171.80,502.40) rotate(-90) scale(1.0,1)" font-size="13.05" text-anchor="start" fill="#231f20">A2G2S1+NeuGc</text>
<text transform="translate(348.90,457.50) rotate(-90) scale(1.0,1)" font-size="13.05" text-anchor="start" fill="#231f20">A3G3S2+NeuGc</text>
<text transform="translate(525.20,460.80) rotate(-90) scale(1.0,1)" font-size="13.05" text-anchor="start" fill="#231f20">A3G3S3+NeuGc</text>
<path d="M158.20,521.70 C158.30,516.28 158.60,515.20 160.00,515.20 L166.40,515.20 C168.02,515.20 168.65,514.24 168.80,511.30 L168.80,508.20 M168.80,511.30 C168.95,514.24 169.58,515.20 171.20,515.20 L178.10,515.20 C179.50,515.20 179.80,516.28 179.90,521.70" fill="none" stroke="#231f20" stroke-width="1.45" stroke-linecap="butt" stroke-linejoin="round"/>
<path d="M329.70,482.60 C329.80,474.67 330.10,473.50 331.60,473.50 L344.20,473.50 C346.36,473.50 347.25,472.22 347.40,468.30 L347.40,463.80 M347.40,468.30 C347.55,472.22 348.44,473.50 350.60,473.50 L363.70,473.50 C365.20,473.50 365.50,474.67 365.60,482.60" fill="none" stroke="#231f20" stroke-width="1.45" stroke-linecap="butt" stroke-linejoin="round"/>
<path d="M504.10,483.80 C504.20,475.77 504.50,474.60 506.00,474.60 L517.90,474.60 C520.06,474.60 520.95,473.32 521.10,469.40 L521.10,465.30 M521.10,469.40 C521.25,473.32 522.14,474.60 524.30,474.60 L536.60,474.60 C538.10,474.60 538.40,475.77 538.50,483.80" fill="none" stroke="#231f20" stroke-width="1.45" stroke-linecap="butt" stroke-linejoin="round"/>
<text transform="translate(99.40,544.80) scale(1.0,1)" font-size="9.1" text-anchor="start" fill="#231f20">24.12</text>
<line x1="100.20" y1="548.70" x2="103.30" y2="546.70" stroke="#231f20" stroke-width="0.9" stroke-linecap="butt"/>
<text transform="translate(150.20,544.50) scale(1.0,1)" font-size="9.1" text-anchor="start" fill="#231f20">25.57</text>
<text transform="translate(165.80,535.90) scale(1.0,1)" font-size="9.1" text-anchor="start" fill="#231f20">25.76</text>
<text transform="translate(181.70,527.30) scale(1.0,1)" font-size="9.1" text-anchor="start" fill="#231f20">26.05</text>
<text transform="translate(180.80,368.70) scale(1.0,1)" font-size="9.1" text-anchor="start" fill="#231f20">26.42</text>
<line x1="205.90" y1="369.00" x2="208.60" y2="370.40" stroke="#231f20" stroke-width="1.15" stroke-linecap="butt"/>
<text transform="translate(212.20,367.50) scale(1.0,1)" font-size="9.1" text-anchor="start" fill="#231f20">26.89</text>
<line x1="228.60" y1="369.00" x2="231.00" y2="370.40" stroke="#231f20" stroke-width="1.15" stroke-linecap="butt"/>
<text transform="translate(247.00,523.00) scale(1.0,1)" font-size="9.1" text-anchor="start" fill="#231f20">27.40</text>
<text transform="translate(265.80,538.10) scale(1.0,1)" font-size="9.1" text-anchor="start" fill="#231f20">27.63</text>
<line x1="267.30" y1="546.40" x2="270.50" y2="544.00" stroke="#231f20" stroke-width="0.9" stroke-linecap="butt"/>
<text transform="translate(280.60,546.40) scale(1.0,1)" font-size="9.1" text-anchor="start" fill="#231f20">28.14</text>
<text transform="translate(307.00,541.70) scale(1.0,1)" font-size="9.1" text-anchor="start" fill="#231f20">28.58</text>
<text transform="translate(329.80,521.90) scale(1.0,1)" font-size="9.1" text-anchor="start" fill="#231f20">29.42</text>
<line x1="348.10" y1="524.50" x2="351.20" y2="526.90" stroke="#231f20" stroke-width="0.9" stroke-linecap="butt"/>
<text transform="translate(344.10,494.60) scale(1.0,1)" font-size="9.1" text-anchor="start" fill="#231f20">29.58</text>
<text transform="translate(358.10,407.70) scale(1.0,1)" font-size="9.1" text-anchor="start" fill="#231f20">29.89</text>
<text transform="translate(364.70,367.80) scale(1.0,1)" font-size="9.1" text-anchor="start" fill="#231f20">30.15</text>
<line x1="382.20" y1="369.20" x2="384.00" y2="370.60" stroke="#231f20" stroke-width="1.15" stroke-linecap="butt"/>
<text transform="translate(411.60,367.50) scale(1.0,1)" font-size="9.1" text-anchor="start" fill="#231f20">30.55</text>
<line x1="409.40" y1="370.60" x2="410.80" y2="369.00" stroke="#231f20" stroke-width="1.15" stroke-linecap="butt"/>
<text transform="translate(423.60,486.50) rotate(-90) scale(0.94,1)" font-size="9.7" text-anchor="start" fill="#231f20">30.85</text>
<text transform="translate(412.80,426.90) scale(1.0,1)" font-size="9.1" text-anchor="start" fill="#231f20">31.07</text>
<line x1="427.30" y1="433.10" x2="430.60" y2="437.60" stroke="#231f20" stroke-width="0.9" stroke-linecap="butt"/>
<text transform="translate(437.80,431.60) scale(1.0,1)" font-size="9.1" text-anchor="start" fill="#231f20">31.22</text>
<text transform="translate(445.80,510.50) scale(1.0,1)" font-size="9.1" text-anchor="start" fill="#231f20">31.33</text>
<line x1="443.00" y1="519.80" x2="446.60" y2="516.20" stroke="#231f20" stroke-width="0.9" stroke-linecap="butt"/>
<text transform="translate(464.50,519.00) scale(1.0,1)" font-size="9.1" text-anchor="start" fill="#231f20">31.64</text>
<line x1="458.00" y1="522.20" x2="461.00" y2="519.00" stroke="#231f20" stroke-width="0.9" stroke-linecap="butt"/>
<text transform="translate(499.40,543.40) scale(1.0,1)" font-size="9.1" text-anchor="start" fill="#231f20">32.85</text>
<text transform="translate(506.10,522.50) scale(1.0,1)" font-size="9.1" text-anchor="start" fill="#231f20">33.07</text>
<line x1="522.80" y1="524.40" x2="526.50" y2="529.50" stroke="#231f20" stroke-width="0.9" stroke-linecap="butt"/>
<text transform="translate(513.10,489.70) scale(1.0,1)" font-size="9.1" text-anchor="start" fill="#231f20">33.20</text>
<text transform="translate(545.00,511.90) rotate(-90) scale(0.94,1)" font-size="9.7" text-anchor="start" fill="#231f20">33.42</text>
<text transform="translate(534.50,366.00) scale(1.0,1)" font-size="9.1" text-anchor="start" fill="#231f20">33.66</text>
<line x1="551.30" y1="370.60" x2="553.00" y2="369.30" stroke="#231f20" stroke-width="1.15" stroke-linecap="butt"/>
<text transform="translate(578.00,366.70) scale(1.0,1)" font-size="9.1" text-anchor="start" fill="#231f20">34.02</text>
<line x1="574.40" y1="370.60" x2="576.00" y2="369.20" stroke="#231f20" stroke-width="1.15" stroke-linecap="butt"/>
<text transform="translate(579.00,452.50) scale(1.0,1)" font-size="9.1" text-anchor="start" fill="#231f20">34.21</text>
<line x1="579.80" y1="458.40" x2="583.40" y2="455.30" stroke="#231f20" stroke-width="0.9" stroke-linecap="butt"/>
<text transform="translate(597.80,464.00) scale(1.0,1)" font-size="9.1" text-anchor="start" fill="#231f20">34.44</text>
<line x1="591.30" y1="464.20" x2="594.40" y2="462.70" stroke="#231f20" stroke-width="0.9" stroke-linecap="butt"/>
<text transform="translate(598.90,503.70) scale(1.0,1)" font-size="9.1" text-anchor="start" fill="#231f20">34.76</text>
<text transform="translate(611.90,539.80) scale(1.0,1)" font-size="9.1" text-anchor="start" fill="#231f20">35.03</text>
<path d="M742.8,268.8L868.3,268.8L869.2,268.8L869.9,268.6L870.4,268.3L870.6,267.9L871.1,266.8L871.3,265.9L871.8,263.4L872.0,257.0L873.6,93.5L873.8,78.3L874.1,91.7L875.7,255.2L875.9,263.3L876.4,265.8L876.8,267.4L877.3,268.1L877.5,268.3L877.8,268.3L878.2,267.9L878.7,266.7L878.9,265.8L879.6,261.2L881.4,47.8L881.7,55.0L883.3,244.2L883.5,261.8L884.2,266.1L884.7,267.6L885.1,268.2L885.4,268.3L885.8,268.2L886.3,267.5L886.7,266.2L887.2,264.0L887.4,252.7L889.0,123.0L889.3,117.3L891.1,263.5L891.6,265.9L892.0,267.4L892.5,268.2L893.0,268.5L893.4,268.5L893.9,268.2L894.6,267.2L894.8,266.6L895.0,264.0L896.6,199.4L896.9,193.6L897.1,199.1L898.7,263.6L898.9,266.6L899.6,268.0L900.1,268.4L900.6,268.6L901.0,268.7L901.5,268.6L902.2,268.1L902.4,267.9L902.6,266.7L904.2,240.2L904.5,237.8L904.7,240.2L906.3,266.7L906.5,267.9L907.2,268.5L908.2,268.7L909.1,268.7L910.0,268.6L910.2,268.5L910.5,268.1L912.1,258.6L912.3,257.7L912.5,258.6L914.1,268.1L914.4,268.5L915.1,268.7L916.0,268.8L917.8,268.7L918.3,268.6L919.9,265.5L920.1,265.3L920.4,265.5L922.0,268.6L922.2,268.7L923.8,268.8L925.9,268.7L927.7,267.7L929.6,268.7L931.0,268.8L933.7,268.7L935.6,267.9L937.4,268.7L938.8,268.8L941.3,268.8L943.2,268.1L945.0,268.8L946.4,268.8L1039.9,268.8L1041.0,268.8L1042.7,267.5L1044.3,268.8L1047.7,268.8L1048.9,268.8L1050.5,267.5L1052.1,268.8L1053.2,268.8L1056.5,268.8L1058.1,267.7L1059.7,268.8L1060.8,268.8L1063.6,268.8L1065.2,268.1L1066.8,268.8L1068.0,268.8L1162.6,268.8L1164.0,268.6L1165.4,264.4L1166.8,268.6L1167.7,268.8L1169.5,268.8L1171.2,268.8L1172.1,268.6L1173.5,264.4L1174.8,268.6L1175.3,268.7L1175.8,268.6L1176.2,268.4L1177.6,259.3L1179.0,268.4L1179.2,268.5L1179.4,268.6L1179.7,268.4L1180.8,264.8L1182.0,268.5L1182.2,268.7L1183.1,268.8L1186.4,268.8L1187.3,268.7L1187.7,268.5L1189.1,260.4L1190.5,268.5L1191.4,268.8L1193.7,268.8L1195.3,267.9L1197.0,268.8L1198.3,268.8L1199.3,268.6L1200.6,264.8L1202.0,268.6L1203.4,268.8" fill="none" stroke="#231f20" stroke-width="1.2" stroke-linejoin="miter" stroke-linecap="round"/>
<line x1="742.80" y1="47.00" x2="742.80" y2="269.40" stroke="#231f20" stroke-width="1.35" stroke-linecap="butt"/>
<line x1="733.80" y1="268.80" x2="1204.10" y2="268.80" stroke="#231f20" stroke-width="1.4" stroke-linecap="butt"/>
<line x1="738.60" y1="69.72" x2="742.80" y2="69.72" stroke="#231f20" stroke-width="1.25" stroke-linecap="butt"/>
<line x1="738.60" y1="91.84" x2="742.80" y2="91.84" stroke="#231f20" stroke-width="1.25" stroke-linecap="butt"/>
<line x1="738.60" y1="113.96" x2="742.80" y2="113.96" stroke="#231f20" stroke-width="1.25" stroke-linecap="butt"/>
<line x1="738.60" y1="136.08" x2="742.80" y2="136.08" stroke="#231f20" stroke-width="1.25" stroke-linecap="butt"/>
<line x1="733.90" y1="158.20" x2="742.80" y2="158.20" stroke="#231f20" stroke-width="1.25" stroke-linecap="butt"/>
<line x1="738.60" y1="180.32" x2="742.80" y2="180.32" stroke="#231f20" stroke-width="1.25" stroke-linecap="butt"/>
<line x1="738.60" y1="202.44" x2="742.80" y2="202.44" stroke="#231f20" stroke-width="1.25" stroke-linecap="butt"/>
<line x1="738.60" y1="224.56" x2="742.80" y2="224.56" stroke="#231f20" stroke-width="1.25" stroke-linecap="butt"/>
<line x1="738.60" y1="246.68" x2="742.80" y2="246.68" stroke="#231f20" stroke-width="1.25" stroke-linecap="butt"/>
<line x1="734.00" y1="47.60" x2="742.80" y2="47.60" stroke="#231f20" stroke-width="1.25" stroke-linecap="butt"/>
<text transform="translate(730.30,51.30) scale(1.0,1)" font-size="11.1" text-anchor="end" fill="#231f20">100</text>
<text transform="translate(730.30,272.20) scale(1.0,1)" font-size="11.1" text-anchor="end" fill="#231f20">0</text>
<text transform="translate(731.00,157.40) rotate(-90) scale(1.0,1)" font-size="11.1" text-anchor="middle" fill="#231f20">%</text>
<line x1="742.80" y1="268.80" x2="742.80" y2="275.80" stroke="#231f20" stroke-width="1.35" stroke-linecap="butt"/>
<text transform="translate(742.80,287.00) scale(1.0,1)" font-size="11.1" text-anchor="middle" fill="#231f20">840</text>
<line x1="765.83" y1="268.80" x2="765.83" y2="275.80" stroke="#231f20" stroke-width="1.35" stroke-linecap="butt"/>
<line x1="788.86" y1="268.80" x2="788.86" y2="275.80" stroke="#231f20" stroke-width="1.35" stroke-linecap="butt"/>
<text transform="translate(788.86,287.00) scale(1.0,1)" font-size="11.1" text-anchor="middle" fill="#231f20">842</text>
<line x1="811.89" y1="268.80" x2="811.89" y2="275.80" stroke="#231f20" stroke-width="1.35" stroke-linecap="butt"/>
<line x1="834.92" y1="268.80" x2="834.92" y2="275.80" stroke="#231f20" stroke-width="1.35" stroke-linecap="butt"/>
<text transform="translate(834.92,287.00) scale(1.0,1)" font-size="11.1" text-anchor="middle" fill="#231f20">844</text>
<line x1="857.95" y1="268.80" x2="857.95" y2="275.80" stroke="#231f20" stroke-width="1.35" stroke-linecap="butt"/>
<line x1="880.98" y1="268.80" x2="880.98" y2="275.80" stroke="#231f20" stroke-width="1.35" stroke-linecap="butt"/>
<text transform="translate(880.98,287.00) scale(1.0,1)" font-size="11.1" text-anchor="middle" fill="#231f20">846</text>
<line x1="904.01" y1="268.80" x2="904.01" y2="275.80" stroke="#231f20" stroke-width="1.35" stroke-linecap="butt"/>
<line x1="927.04" y1="268.80" x2="927.04" y2="275.80" stroke="#231f20" stroke-width="1.35" stroke-linecap="butt"/>
<text transform="translate(927.04,287.00) scale(1.0,1)" font-size="11.1" text-anchor="middle" fill="#231f20">848</text>
<line x1="950.07" y1="268.80" x2="950.07" y2="275.80" stroke="#231f20" stroke-width="1.35" stroke-linecap="butt"/>
<line x1="973.10" y1="268.80" x2="973.10" y2="275.80" stroke="#231f20" stroke-width="1.35" stroke-linecap="butt"/>
<text transform="translate(973.10,287.00) scale(1.0,1)" font-size="11.1" text-anchor="middle" fill="#231f20">850</text>
<line x1="996.13" y1="268.80" x2="996.13" y2="275.80" stroke="#231f20" stroke-width="1.35" stroke-linecap="butt"/>
<line x1="1019.16" y1="268.80" x2="1019.16" y2="275.80" stroke="#231f20" stroke-width="1.35" stroke-linecap="butt"/>
<text transform="translate(1019.16,287.00) scale(1.0,1)" font-size="11.1" text-anchor="middle" fill="#231f20">852</text>
<line x1="1042.19" y1="268.80" x2="1042.19" y2="275.80" stroke="#231f20" stroke-width="1.35" stroke-linecap="butt"/>
<line x1="1065.22" y1="268.80" x2="1065.22" y2="275.80" stroke="#231f20" stroke-width="1.35" stroke-linecap="butt"/>
<text transform="translate(1065.22,287.00) scale(1.0,1)" font-size="11.1" text-anchor="middle" fill="#231f20">854</text>
<line x1="1088.25" y1="268.80" x2="1088.25" y2="275.80" stroke="#231f20" stroke-width="1.35" stroke-linecap="butt"/>
<line x1="1111.28" y1="268.80" x2="1111.28" y2="275.80" stroke="#231f20" stroke-width="1.35" stroke-linecap="butt"/>
<text transform="translate(1111.28,287.00) scale(1.0,1)" font-size="11.1" text-anchor="middle" fill="#231f20">856</text>
<line x1="1134.31" y1="268.80" x2="1134.31" y2="275.80" stroke="#231f20" stroke-width="1.35" stroke-linecap="butt"/>
<line x1="1157.34" y1="268.80" x2="1157.34" y2="275.80" stroke="#231f20" stroke-width="1.35" stroke-linecap="butt"/>
<text transform="translate(1157.34,287.00) scale(1.0,1)" font-size="11.1" text-anchor="middle" fill="#231f20">858</text>
<line x1="1180.37" y1="268.80" x2="1180.37" y2="275.80" stroke="#231f20" stroke-width="1.35" stroke-linecap="butt"/>
<line x1="1203.40" y1="268.80" x2="1203.40" y2="275.80" stroke="#231f20" stroke-width="1.35" stroke-linecap="butt"/>
<text transform="translate(1203.40,287.00) scale(1.0,1)" font-size="11.1" text-anchor="middle" fill="#231f20">860</text>
<text transform="translate(1211.70,269.70) scale(1.0,1)" font-size="11.1" text-anchor="start" font-style="italic" fill="#231f20">m/z</text>
<text transform="translate(858.10,43.80) scale(1.0,1)" font-size="11.1" text-anchor="start" fill="#231f20">846.0236</text>
<text transform="translate(827.10,63.20) scale(1.0,1)" font-size="11.1" text-anchor="start" fill="#231f20">845.6904</text>
<line x1="863.30" y1="66.90" x2="874.00" y2="77.80" stroke="#231f20" stroke-width="1.0" stroke-linecap="butt"/>
<text transform="translate(888.70,101.70) scale(1.0,1)" font-size="11.1" text-anchor="start" fill="#231f20">846.3568</text>
<line x1="900.50" y1="105.70" x2="889.20" y2="116.50" stroke="#231f20" stroke-width="1.0" stroke-linecap="butt"/>
<text transform="translate(896.70,177.80) scale(1.0,1)" font-size="11.1" text-anchor="start" fill="#231f20">846.6902</text>
<line x1="908.10" y1="181.40" x2="897.00" y2="192.90" stroke="#231f20" stroke-width="1.0" stroke-linecap="butt"/>
<text transform="translate(758.60,77.80) scale(1.0,1)" font-size="26.4" text-anchor="start" fill="#231f20">C.</text>
<text transform="translate(1094.10,78.10) scale(1.045,1)" font-size="15.3" text-anchor="start" fill="#231f20">[A2G2S2+3H]</text>
<text transform="translate(1194.00,74.00) scale(1.0,1)" font-size="10.9" text-anchor="start" fill="#4d4d4f">3</text>
<text transform="translate(1200.20,73.00) scale(1.0,1)" font-size="9.0" text-anchor="start" fill="#6d6e70">+</text>
<text transform="translate(1094.10,96.60) scale(1.045,1)" font-size="15.3" text-anchor="start" fill="#231f20">RT. 26.89 min</text>
<text transform="translate(1094.10,115.30) scale(1.045,1)" font-size="15.3" text-anchor="start" font-style="italic" fill="#231f20">m/z</text>
<text transform="translate(1196.40,115.30) scale(1.03,1)" font-size="15.3" text-anchor="end" fill="#231f20">845.69 Da</text>
<path d="M742.8,556.6L743.0,556.5L743.5,555.8L744.2,555.9L744.4,556.2L744.6,556.1L745.1,556.2L745.3,556.1L745.6,556.5L745.8,556.3L746.0,555.9L746.7,555.4L747.4,555.7L747.9,556.4L748.3,556.7L748.8,556.7L749.0,556.7L749.7,556.1L749.9,556.1L750.2,556.3L750.9,556.4L751.1,556.2L751.6,556.4L752.0,556.6L752.2,556.6L752.7,556.4L753.2,556.4L753.4,556.1L753.6,556.1L754.1,555.1L754.3,555.3L754.5,555.0L754.8,555.5L755.2,556.0L755.5,556.5L755.7,556.2L755.9,556.3L756.2,556.2L756.4,555.8L756.6,556.0L756.8,555.9L757.3,556.2L758.0,554.7L758.2,554.4L758.7,555.5L758.9,555.4L759.4,553.4L759.6,553.2L759.8,553.4L760.3,555.0L760.5,555.3L761.0,555.3L761.2,555.2L761.5,555.5L761.7,555.4L761.9,555.9L762.1,555.9L762.4,555.4L762.6,555.5L762.8,554.8L763.3,555.0L763.5,554.7L764.0,554.6L764.2,554.8L764.4,555.2L764.7,555.3L765.1,554.3L765.4,554.3L765.6,554.7L766.1,556.0L767.0,555.8L767.2,556.1L767.4,556.3L767.7,556.1L768.1,555.5L768.4,555.7L768.6,555.7L768.8,556.1L769.1,555.9L769.3,555.4L769.5,555.3L769.7,555.3L770.2,555.8L770.4,556.4L770.7,556.5L770.9,556.5L771.1,556.7L771.6,556.0L771.8,556.0L772.0,555.8L772.5,556.1L772.7,556.1L773.0,556.3L773.2,556.4L773.4,556.3L773.7,556.3L774.1,556.0L774.6,556.2L774.8,556.5L775.0,556.4L775.7,555.1L776.0,555.0L776.7,556.0L777.1,556.0L777.3,555.8L777.6,555.4L777.8,555.5L778.3,555.2L778.5,555.5L778.7,555.4L779.4,554.3L779.9,554.2L780.6,555.7L781.0,556.3L781.3,556.3L781.5,556.0L782.2,554.0L782.6,554.2L783.1,555.7L783.3,555.8L783.8,556.1L784.0,555.7L784.3,556.0L784.5,556.1L784.9,554.5L785.4,552.0L785.6,551.3L785.9,551.3L786.6,554.8L786.8,555.4L787.5,555.1L787.7,555.5L787.9,555.5L788.4,556.3L788.6,556.4L788.9,556.3L789.1,555.6L789.6,555.0L790.0,556.2L790.5,556.4L790.9,555.1L791.2,555.1L791.4,555.1L791.6,555.5L791.9,555.5L792.3,555.8L792.5,555.8L793.0,556.2L793.9,555.1L794.2,555.4L794.6,556.4L795.5,555.2L795.8,555.3L796.0,555.6L796.5,555.7L796.7,556.0L796.9,555.8L797.4,556.3L797.6,556.2L797.8,556.5L798.1,556.4L798.3,556.1L798.5,556.1L798.8,555.7L799.0,555.7L799.2,556.0L799.7,556.1L799.9,555.6L800.1,555.6L800.4,555.7L800.8,556.4L801.5,556.5L801.8,556.7L802.0,556.4L802.2,556.4L802.7,556.3L802.9,556.6L803.4,556.8L803.6,556.5L804.1,556.5L804.3,556.0L804.5,556.4L804.8,556.4L805.0,556.0L805.2,556.2L805.7,555.0L805.9,554.8L806.1,554.9L806.8,556.1L807.1,555.6L807.3,555.4L807.7,554.2L808.0,554.1L808.2,553.5L808.4,554.0L808.9,554.0L809.1,553.9L809.4,553.8L810.3,556.2L810.5,555.9L810.7,556.0L811.0,556.0L811.2,555.5L811.4,555.7L811.7,555.2L812.1,555.5L812.6,555.0L812.8,554.3L813.0,554.2L813.3,554.4L813.5,554.4L813.7,554.6L814.0,554.4L814.2,554.6L814.9,556.2L815.3,556.6L816.0,556.8L816.3,556.5L816.7,556.5L817.0,556.1L817.2,556.1L817.6,555.3L818.1,555.2L819.0,556.2L819.5,556.3L820.0,556.2L820.2,555.9L820.9,556.0L821.1,556.3L821.3,556.0L821.8,555.9L822.0,556.1L822.3,556.5L822.5,556.7L822.7,556.7L823.2,556.1L823.6,556.3L823.9,556.2L824.1,556.3L824.3,555.8L825.5,555.3L825.9,556.0L826.6,556.1L827.1,556.0L827.6,556.2L827.8,556.1L828.0,556.6L828.5,556.3L828.9,555.4L829.2,555.9L829.4,555.6L829.6,555.9L829.9,555.9L830.1,555.2L830.5,554.8L830.8,554.5L831.0,554.9L831.5,554.8L831.7,555.1L831.9,554.8L832.2,554.8L832.4,554.3L832.8,554.0L833.3,555.0L833.5,555.1L833.8,555.8L834.0,555.7L834.2,556.0L834.5,556.1L834.7,555.7L834.9,556.1L835.4,555.6L835.6,555.6L835.8,555.2L836.1,555.3L836.3,555.8L836.8,556.4L837.0,556.6L837.2,556.5L837.5,556.6L837.7,556.3L838.4,554.4L838.6,554.4L838.8,554.8L839.1,554.8L839.5,555.5L839.8,555.6L840.0,556.3L840.7,556.4L841.1,556.1L841.8,556.3L842.1,556.4L842.3,556.1L842.5,556.1L843.2,556.5L843.4,556.8L843.7,556.8L844.1,556.7L844.6,555.9L845.1,555.7L845.7,556.4L846.2,556.6L846.7,556.0L846.9,556.1L847.1,555.9L847.6,555.7L848.0,554.5L848.3,553.4L848.7,550.3L849.2,549.2L849.4,549.3L849.9,551.2L850.4,554.1L850.8,556.0L851.0,556.6L851.5,556.0L852.0,555.8L852.4,555.9L852.7,555.5L853.1,555.4L853.6,555.5L853.8,555.4L854.0,555.8L854.3,555.8L854.5,556.1L854.7,555.8L855.0,554.9L855.2,554.5L855.4,553.9L855.6,554.3L855.9,555.3L856.3,556.2L856.8,555.4L857.3,555.0L857.7,555.4L858.2,556.3L858.4,556.2L858.6,556.3L859.3,554.2L859.6,552.5L860.0,551.2L860.3,551.0L860.5,551.6L860.7,551.8L860.9,552.5L861.2,552.9L861.4,553.0L861.9,553.8L862.1,554.7L862.6,555.4L863.0,555.5L863.2,555.7L863.5,555.7L863.9,555.4L864.4,555.9L865.1,556.0L865.8,556.5L866.0,556.4L866.5,555.8L866.9,555.5L867.4,555.7L867.6,555.8L867.9,556.1L868.1,556.3L868.3,556.2L868.5,556.4L869.0,556.0L869.2,556.0L869.5,555.6L869.7,555.5L869.9,555.6L870.2,555.3L870.4,555.7L870.6,555.8L871.1,554.7L871.5,552.5L872.2,550.1L872.7,549.8L872.9,550.3L873.8,555.0L874.1,555.5L874.3,554.9L874.8,554.5L875.0,554.2L875.2,554.6L875.5,554.4L875.7,553.9L876.1,554.4L876.6,556.0L876.8,556.0L877.1,556.3L877.3,556.1L877.5,556.2L877.8,555.9L878.0,555.0L878.4,554.5L878.7,554.7L878.9,555.3L879.4,553.9L879.6,553.9L879.8,553.4L880.1,553.9L880.3,554.0L880.5,552.7L881.0,551.7L881.2,551.7L881.4,552.2L881.9,554.1L882.1,554.0L882.4,554.3L882.6,554.1L883.1,555.6L883.5,556.3L883.7,555.9L884.9,555.1L885.1,555.6L885.4,555.7L885.6,556.1L885.8,556.2L886.5,555.7L887.0,555.5L887.4,555.5L888.1,556.4L888.3,556.6L888.6,556.2L888.8,556.2L889.0,555.7L889.3,555.4L889.7,555.8L890.0,556.2L890.7,556.1L891.1,556.6L891.6,556.3L892.0,555.5L892.3,555.4L892.5,555.3L892.7,555.7L893.0,555.8L893.2,556.1L893.4,555.8L893.6,555.2L893.9,555.0L894.8,556.7L895.3,555.8L895.9,555.4L896.6,555.7L896.9,556.2L897.3,556.0L897.8,555.5L898.0,556.0L898.3,556.0L898.5,556.4L898.9,555.9L899.2,555.8L899.4,555.3L900.1,554.3L900.6,555.0L900.8,555.2L901.0,554.8L901.2,554.7L902.2,556.2L902.4,556.1L902.6,555.8L902.9,555.9L903.3,555.0L903.5,555.4L904.0,555.8L904.2,555.7L904.5,555.2L904.7,555.6L905.2,555.5L905.4,555.1L905.6,554.2L905.9,553.9L906.1,554.3L906.5,555.9L906.8,555.8L907.2,554.7L907.5,554.4L908.2,555.6L908.4,555.6L908.6,555.2L909.3,555.4L909.5,555.7L909.8,555.7L910.0,556.0L910.2,556.0L910.7,555.8L910.9,555.6L911.1,555.6L911.4,555.4L911.6,555.4L911.8,555.7L912.1,555.6L912.3,555.9L912.5,555.9L912.8,555.8L913.5,556.7L913.9,556.8L914.4,556.3L915.1,555.1L915.3,554.9L916.0,556.1L916.4,556.1L916.7,555.9L916.9,555.9L917.6,555.6L917.8,555.3L918.1,555.6L918.3,555.6L918.7,556.5L919.0,556.7L919.4,556.3L919.7,555.9L920.1,555.4L920.4,554.9L920.8,554.8L921.3,554.1L921.5,554.1L922.4,555.8L922.7,555.6L922.9,555.7L923.1,555.4L923.4,554.4L923.6,553.7L923.8,553.3L924.0,553.8L924.3,554.1L924.5,553.4L924.7,553.0L925.0,552.9L925.2,553.4L925.7,555.4L925.9,555.2L926.1,555.5L926.3,555.5L926.8,556.0L927.0,555.8L927.3,556.0L927.5,556.0L927.7,556.3L928.2,556.0L928.4,555.6L928.7,555.6L928.9,555.8L929.1,555.8L929.3,556.2L929.8,556.2L930.0,556.0L930.3,555.0L930.7,553.6L931.0,553.8L931.2,554.8L931.6,555.9L932.1,556.0L932.3,556.1L932.6,556.1L932.8,556.3L933.0,556.2L933.3,556.0L934.2,555.8L935.6,556.5L936.0,556.6L936.7,555.7L936.9,555.7L937.2,555.5L937.4,555.6L937.6,556.1L938.1,556.5L938.6,555.8L938.8,555.9L939.0,555.6L939.5,555.9L939.7,555.9L939.9,556.1L940.4,555.7L940.9,554.9L941.1,555.1L941.3,554.8L941.5,554.9L941.8,555.3L942.0,555.4L942.2,555.3L942.5,555.1L942.7,555.1L942.9,554.9L943.2,555.6L943.9,556.3L944.3,556.0L945.2,555.9L945.5,555.3L945.7,555.3L945.9,555.4L946.4,556.3L946.6,556.4L947.1,556.4L947.3,556.1L947.8,555.9L948.0,555.3L948.2,555.7L948.9,556.0L949.1,555.3L949.4,555.0L949.6,554.1L949.8,553.9L950.1,554.6L950.5,555.2L951.2,553.5L951.5,553.9L951.7,555.0L951.9,555.4L952.4,555.3L952.6,555.0L953.1,555.3L953.3,555.0L953.5,555.5L953.8,555.3L954.0,555.4L954.2,555.8L954.4,555.7L954.7,556.0L954.9,555.9L955.1,556.2L955.4,555.9L955.8,556.3L956.1,556.2L956.3,556.4L956.5,556.0L956.7,556.2L957.0,556.1L957.2,555.7L957.4,555.6L957.9,554.7L958.1,555.0L958.6,555.2L959.1,555.7L959.3,555.7L959.5,556.0L960.0,556.3L960.2,556.7L960.4,556.5L960.7,556.6L960.9,556.2L961.1,556.1L961.8,556.6L962.0,556.6L962.5,556.5L963.0,556.2L963.2,556.3L963.4,556.1L963.7,556.1L963.9,555.9L964.1,555.9L964.3,556.1L964.6,555.8L964.8,555.8L965.0,555.6L965.3,555.6L966.0,556.8L966.2,556.9L966.7,556.6L967.1,556.1L967.3,556.4L968.0,556.0L968.3,555.6L968.5,555.6L969.2,555.0L969.4,555.2L969.9,555.9L970.1,555.8L970.8,555.7L971.0,556.3L971.3,555.9L971.5,556.1L971.7,556.0L971.9,555.5L972.2,556.0L972.4,555.3L972.6,555.0L972.9,554.9L973.6,553.5L974.0,553.3L974.3,553.5L974.5,553.6L975.2,552.9L975.4,553.7L975.6,553.9L975.9,554.7L976.1,555.0L976.3,554.9L976.6,555.5L977.0,555.1L977.2,555.4L977.7,555.4L977.9,555.7L978.2,555.4L978.4,555.4L979.3,556.2L979.8,555.9L980.0,555.9L980.2,555.6L981.2,556.0L981.4,556.0L982.1,556.5L982.3,556.2L982.5,556.2L983.0,555.5L983.2,555.4L983.5,555.5L983.7,555.8L984.2,556.0L984.6,555.2L985.1,555.4L985.5,556.2L986.0,556.2L986.9,556.0L987.4,555.5L988.3,556.4L989.2,555.3L989.5,555.3L989.7,555.3L989.9,555.6L990.1,555.7L990.4,556.0L990.6,556.1L990.8,556.1L991.1,556.3L991.5,556.3L992.0,556.6L992.2,556.4L992.4,556.5L992.9,555.1L993.4,555.1L993.6,555.4L993.8,555.4L994.1,555.0L994.3,553.4L994.5,550.3L994.7,545.3L995.2,520.6L996.4,404.0L996.6,392.9L996.8,390.1L997.1,393.4L997.3,404.8L998.2,501.9L998.7,536.6L998.9,545.2L999.4,552.9L1000.0,556.2L1000.3,556.1L1000.5,556.3L1000.7,556.2L1001.2,555.6L1001.4,554.8L1001.7,553.5L1001.9,550.3L1002.1,544.2L1002.3,532.9L1002.8,488.3L1003.7,358.3L1004.0,341.4L1004.2,335.8L1004.4,338.0L1004.7,350.4L1004.9,374.0L1005.6,476.9L1006.0,526.6L1006.3,540.8L1006.5,549.1L1006.7,553.6L1007.0,555.4L1007.2,556.0L1007.4,556.1L1007.6,555.7L1008.1,556.0L1008.6,556.0L1008.8,555.6L1009.0,554.7L1009.3,552.9L1009.5,549.6L1009.7,543.4L1010.2,517.4L1011.1,435.4L1011.3,423.4L1011.6,417.6L1011.8,418.0L1012.0,424.5L1012.3,437.9L1013.2,520.3L1013.6,544.8L1013.9,550.5L1014.1,553.1L1014.3,554.2L1014.8,554.4L1015.5,555.6L1015.9,556.1L1016.6,555.8L1017.1,555.2L1017.3,554.0L1017.5,551.9L1017.8,548.9L1018.2,535.8L1019.2,498.5L1019.4,494.3L1019.6,493.9L1019.9,495.4L1020.1,499.4L1021.0,534.7L1021.5,548.2L1021.7,552.1L1022.2,555.7L1022.4,555.7L1022.6,556.1L1022.8,556.2L1023.3,556.2L1023.5,555.9L1023.8,555.8L1024.2,555.2L1024.5,554.7L1024.9,554.5L1025.4,553.0L1025.8,547.2L1026.8,531.7L1027.0,529.8L1027.2,529.0L1027.5,529.7L1027.7,531.5L1027.9,534.6L1028.8,550.6L1029.5,555.5L1030.0,556.5L1030.4,556.5L1031.1,555.8L1031.4,555.7L1031.6,555.8L1031.8,555.7L1032.1,556.1L1032.7,556.5L1033.0,556.6L1033.2,556.2L1033.4,556.0L1033.7,555.4L1034.1,552.2L1034.8,544.9L1035.1,543.7L1035.3,543.3L1035.5,543.2L1036.0,546.1L1036.4,551.2L1036.9,554.4L1037.4,555.1L1037.6,555.0L1038.0,552.5L1038.3,550.5L1038.5,549.5L1038.7,549.6L1039.0,550.0L1039.2,550.9L1039.7,553.7L1040.1,555.5L1040.3,555.8L1040.6,555.1L1040.8,554.8L1041.3,551.4L1041.7,549.0L1042.0,548.5L1042.2,548.5L1042.4,548.3L1042.9,550.9L1043.3,554.6L1043.8,556.0L1044.0,555.4L1044.3,554.5L1044.7,553.6L1045.0,554.0L1045.4,554.5L1045.6,554.4L1045.9,554.6L1046.3,555.4L1046.6,556.1L1046.8,556.1L1047.3,556.4L1047.5,556.1L1047.7,556.3L1048.2,555.6L1048.6,556.0L1048.9,556.4L1049.1,556.4L1049.3,556.6L1049.8,556.2L1050.0,556.4L1050.3,556.1L1050.7,556.3L1050.9,556.3L1051.2,556.5L1051.6,556.5L1052.1,556.6L1052.8,556.3L1053.0,556.1L1053.2,556.2L1053.9,556.3L1054.2,556.0L1054.9,556.2L1055.8,556.8L1056.2,556.4L1056.5,555.7L1056.9,555.8L1057.4,556.2L1057.9,555.1L1058.1,555.0L1058.5,555.6L1059.0,555.4L1059.2,555.0L1059.5,555.1L1059.7,555.5L1059.9,555.6L1060.4,555.7L1060.6,555.6L1060.8,555.7L1061.3,555.0L1061.8,554.7L1062.0,555.3L1062.2,555.6L1062.5,555.6L1062.9,554.3L1063.1,554.4L1063.8,556.3L1064.1,556.0L1064.5,555.1L1064.8,555.0L1065.0,555.3L1065.2,555.5L1065.5,555.2L1065.9,554.0L1066.1,554.2L1066.8,555.4L1067.1,555.6L1067.3,555.6L1067.8,556.3L1068.0,555.8L1068.2,555.8L1069.1,554.3L1069.6,554.5L1069.8,554.9L1070.5,555.7L1071.0,555.7L1071.2,555.5L1071.7,555.5L1072.4,555.9L1072.6,556.0L1072.8,555.9L1073.1,556.2L1073.3,555.9L1073.7,556.5L1074.0,556.4L1074.2,556.7L1074.4,556.6L1075.1,555.6L1075.4,555.5L1076.0,555.7L1076.3,555.5L1076.5,555.5L1077.0,556.2L1077.2,556.2L1077.7,555.9L1077.9,555.6L1078.1,555.6L1078.6,556.1L1078.8,556.3L1079.3,556.9L1079.5,556.3L1079.7,556.2L1080.2,555.6L1080.9,556.1L1081.6,555.6L1081.8,555.7L1082.0,556.1L1082.5,556.3L1083.0,555.5L1083.2,555.6L1083.4,555.4L1083.6,555.8L1084.1,556.1L1084.3,556.4L1084.6,555.8L1084.8,556.1L1085.0,556.0L1085.3,555.6L1085.5,555.8L1085.9,555.0L1086.2,555.1L1086.4,554.9L1086.6,555.2L1086.9,554.9L1087.1,555.2L1087.6,555.3L1088.0,554.7L1088.2,555.0L1088.5,554.7L1088.7,555.3L1089.4,555.3L1089.9,554.3L1090.1,553.4L1090.3,553.3L1091.9,555.8L1092.4,555.5L1092.9,555.6L1093.1,556.0L1093.5,555.9L1094.0,555.7L1094.2,555.8L1094.5,555.6L1094.7,556.1L1095.4,555.6L1095.6,555.1L1095.8,555.1L1096.1,555.1L1096.5,555.6L1096.8,556.1L1097.2,556.6L1097.5,556.6L1097.7,556.1L1097.9,556.2L1098.2,555.9L1098.4,556.0L1098.6,556.4L1099.3,556.2L1099.8,555.8L1100.0,556.0L1100.2,556.1L1100.7,555.8L1101.1,554.6L1101.8,551.8L1102.1,551.6L1102.3,551.8L1102.5,552.6L1103.0,555.2L1103.2,555.8L1103.4,555.8L1103.7,555.7L1104.4,555.8L1104.6,556.0L1104.8,555.9L1105.3,556.4L1105.5,556.5L1105.8,556.7L1106.0,556.6L1106.4,555.2L1106.9,554.8L1107.1,554.9L1107.4,555.7L1107.6,555.9L1107.8,555.9L1108.1,556.1L1108.5,555.5L1108.7,555.6L1109.2,554.8L1109.7,552.8L1110.1,553.3L1110.6,555.1L1111.0,555.9L1111.3,555.8L1111.5,556.0L1111.7,555.6L1112.2,554.0L1112.4,553.7L1112.9,554.4L1113.1,555.2L1113.4,555.6L1113.6,555.6L1113.8,556.1L1114.0,555.9L1114.3,556.1L1114.7,555.6L1115.0,555.8L1115.2,555.2L1115.7,556.0L1115.9,556.1L1116.1,556.1L1116.6,554.5L1116.8,554.1L1117.0,554.1L1117.5,555.7L1117.7,556.0L1118.0,556.1L1118.4,555.7L1118.6,555.6L1118.9,555.9L1119.1,555.7L1119.3,555.6L1119.6,555.9L1120.5,556.4L1120.7,556.2L1121.0,556.3L1121.4,556.1L1121.6,556.1L1121.9,556.2L1122.6,556.4L1123.7,555.6L1123.9,555.6L1124.2,555.8L1124.4,555.8L1124.9,555.3L1125.1,555.3L1125.6,555.6L1125.8,556.0L1126.0,555.6L1126.7,555.3L1127.2,555.3L1127.4,555.6L1128.1,556.1L1128.3,555.9L1128.6,556.1L1129.0,555.7L1129.5,555.6L1129.9,556.3L1131.1,554.6L1131.3,555.1L1131.5,555.2L1131.8,555.5L1132.0,556.3L1132.2,555.9L1132.5,555.9L1132.9,555.3L1133.2,555.6L1133.6,555.8L1133.8,555.9L1134.1,555.7L1134.5,556.4L1134.8,556.0L1135.0,556.3L1135.5,555.9L1135.7,556.1L1135.9,555.4L1136.6,554.2L1137.5,556.3L1137.8,556.3L1138.0,556.1L1138.2,556.6L1138.5,556.2L1138.9,556.0L1139.6,554.5L1140.1,554.6L1140.5,555.4L1140.8,555.2L1141.0,555.5L1141.2,555.6L1141.4,556.0L1141.7,556.1L1142.1,555.5L1142.4,555.0L1142.6,555.1L1142.8,555.4L1143.3,556.3L1144.0,556.0L1144.2,555.6L1144.4,555.6L1144.7,555.6L1144.9,555.8L1145.4,556.5L1145.6,556.6L1146.1,556.4L1146.7,555.1L1147.0,554.8L1147.4,555.3L1147.7,555.8L1147.9,556.1L1148.1,556.2L1149.0,555.4L1149.5,555.9L1149.7,556.1L1150.4,554.4L1150.7,554.5L1150.9,555.3L1151.1,555.6L1151.4,555.5L1151.8,555.0L1152.3,555.9L1152.5,556.1L1152.7,556.0L1153.2,554.1L1153.4,553.8L1153.7,553.8L1153.9,554.0L1154.3,555.1L1154.6,555.2L1155.0,556.1L1155.3,556.2L1155.5,556.6L1156.0,555.9L1156.4,554.8L1156.6,555.1L1156.9,555.1L1157.1,555.5L1157.3,555.6L1157.6,555.3L1157.8,555.5L1158.3,555.2L1158.7,554.1L1159.2,553.8L1159.6,554.7L1159.9,554.8L1160.1,554.6L1160.3,554.6L1160.8,555.3L1161.0,555.9L1161.3,555.9L1161.7,555.5L1162.2,556.2L1162.4,556.0L1162.6,556.2L1162.9,556.2L1163.1,555.9L1163.3,556.2L1163.6,556.3L1163.8,556.2L1164.0,556.3L1164.5,555.8L1164.7,555.8L1164.9,556.1L1165.2,556.1L1165.4,556.3L1166.3,554.8L1167.2,556.1L1167.5,556.3L1167.9,556.2L1168.2,555.9L1168.6,554.7L1169.1,554.9L1169.5,555.7L1169.8,555.8L1170.0,555.6L1170.5,555.9L1171.2,555.4L1171.6,553.8L1172.1,551.3L1172.3,550.6L1172.5,550.5L1173.0,552.4L1173.5,555.4L1173.7,556.3L1173.9,556.6L1174.2,556.7L1174.6,555.9L1174.8,556.2L1175.1,555.8L1175.3,556.1L1175.5,556.1L1175.8,555.8L1176.0,554.9L1176.9,544.5L1177.1,543.0L1177.4,542.5L1177.6,542.7L1177.8,544.5L1178.5,552.7L1178.8,554.5L1179.2,555.7L1179.9,555.0L1180.1,555.2L1180.6,554.9L1180.8,555.4L1181.3,555.7L1181.5,556.1L1182.0,556.2L1182.4,555.8L1183.1,556.0L1183.6,555.1L1183.8,555.1L1184.3,555.9L1184.5,556.1L1184.7,555.8L1185.2,554.1L1185.4,554.0L1185.7,554.5L1186.1,556.2L1186.4,556.0L1186.6,555.3L1186.8,554.9L1187.0,554.9L1187.3,555.3L1187.5,555.4L1187.7,554.7L1188.0,552.8L1188.7,544.4L1188.9,542.8L1189.1,542.3L1189.4,543.2L1189.6,545.0L1190.0,550.7L1190.5,554.6L1190.7,555.4L1191.2,556.1L1191.4,556.2L1191.7,556.5L1192.3,556.7L1192.6,556.6L1193.3,555.8L1193.7,555.8L1194.0,555.4L1194.2,555.3L1194.4,555.5L1194.6,555.8L1195.1,556.5L1195.3,556.5L1195.8,555.7L1196.3,555.5L1196.5,555.7L1196.7,555.4L1197.0,554.7L1197.2,554.5L1197.6,554.9L1197.9,555.5L1198.1,555.6L1198.6,554.9L1198.8,554.1L1199.5,554.9L1199.7,555.1L1200.2,552.1L1200.6,548.0L1200.9,546.6L1201.1,545.9L1201.3,546.0L1201.6,546.7L1202.2,552.6L1202.5,553.6L1202.7,554.2L1203.2,554.8L1203.4,555.7" fill="none" stroke="#231f20" stroke-width="1.2" stroke-linejoin="miter" stroke-linecap="round"/>
<line x1="742.80" y1="335.70" x2="742.80" y2="558.30" stroke="#231f20" stroke-width="1.35" stroke-linecap="butt"/>
<line x1="733.80" y1="557.70" x2="1204.10" y2="557.70" stroke="#231f20" stroke-width="1.4" stroke-linecap="butt"/>
<line x1="738.60" y1="358.44" x2="742.80" y2="358.44" stroke="#231f20" stroke-width="1.25" stroke-linecap="butt"/>
<line x1="738.60" y1="380.58" x2="742.80" y2="380.58" stroke="#231f20" stroke-width="1.25" stroke-linecap="butt"/>
<line x1="738.60" y1="402.72" x2="742.80" y2="402.72" stroke="#231f20" stroke-width="1.25" stroke-linecap="butt"/>
<line x1="738.60" y1="424.86" x2="742.80" y2="424.86" stroke="#231f20" stroke-width="1.25" stroke-linecap="butt"/>
<line x1="733.90" y1="447.00" x2="742.80" y2="447.00" stroke="#231f20" stroke-width="1.25" stroke-linecap="butt"/>
<line x1="738.60" y1="469.14" x2="742.80" y2="469.14" stroke="#231f20" stroke-width="1.25" stroke-linecap="butt"/>
<line x1="738.60" y1="491.28" x2="742.80" y2="491.28" stroke="#231f20" stroke-width="1.25" stroke-linecap="butt"/>
<line x1="738.60" y1="513.42" x2="742.80" y2="513.42" stroke="#231f20" stroke-width="1.25" stroke-linecap="butt"/>
<line x1="738.60" y1="535.56" x2="742.80" y2="535.56" stroke="#231f20" stroke-width="1.25" stroke-linecap="butt"/>
<line x1="734.00" y1="336.30" x2="742.80" y2="336.30" stroke="#231f20" stroke-width="1.25" stroke-linecap="butt"/>
<text transform="translate(730.30,340.00) scale(1.0,1)" font-size="11.1" text-anchor="end" fill="#231f20">100</text>
<text transform="translate(730.30,561.10) scale(1.0,1)" font-size="11.1" text-anchor="end" fill="#231f20">0</text>
<text transform="translate(731.00,446.20) rotate(-90) scale(1.0,1)" font-size="11.1" text-anchor="middle" fill="#231f20">%</text>
<line x1="742.80" y1="557.70" x2="742.80" y2="564.70" stroke="#231f20" stroke-width="1.35" stroke-linecap="butt"/>
<text transform="translate(742.80,575.90) scale(1.0,1)" font-size="11.1" text-anchor="middle" fill="#231f20">840</text>
<line x1="765.83" y1="557.70" x2="765.83" y2="564.70" stroke="#231f20" stroke-width="1.35" stroke-linecap="butt"/>
<line x1="788.86" y1="557.70" x2="788.86" y2="564.70" stroke="#231f20" stroke-width="1.35" stroke-linecap="butt"/>
<text transform="translate(788.86,575.90) scale(1.0,1)" font-size="11.1" text-anchor="middle" fill="#231f20">842</text>
<line x1="811.89" y1="557.70" x2="811.89" y2="564.70" stroke="#231f20" stroke-width="1.35" stroke-linecap="butt"/>
<line x1="834.92" y1="557.70" x2="834.92" y2="564.70" stroke="#231f20" stroke-width="1.35" stroke-linecap="butt"/>
<text transform="translate(834.92,575.90) scale(1.0,1)" font-size="11.1" text-anchor="middle" fill="#231f20">844</text>
<line x1="857.95" y1="557.70" x2="857.95" y2="564.70" stroke="#231f20" stroke-width="1.35" stroke-linecap="butt"/>
<line x1="880.98" y1="557.70" x2="880.98" y2="564.70" stroke="#231f20" stroke-width="1.35" stroke-linecap="butt"/>
<text transform="translate(880.98,575.90) scale(1.0,1)" font-size="11.1" text-anchor="middle" fill="#231f20">846</text>
<line x1="904.01" y1="557.70" x2="904.01" y2="564.70" stroke="#231f20" stroke-width="1.35" stroke-linecap="butt"/>
<line x1="927.04" y1="557.70" x2="927.04" y2="564.70" stroke="#231f20" stroke-width="1.35" stroke-linecap="butt"/>
<text transform="translate(927.04,575.90) scale(1.0,1)" font-size="11.1" text-anchor="middle" fill="#231f20">848</text>
<line x1="950.07" y1="557.70" x2="950.07" y2="564.70" stroke="#231f20" stroke-width="1.35" stroke-linecap="butt"/>
<line x1="973.10" y1="557.70" x2="973.10" y2="564.70" stroke="#231f20" stroke-width="1.35" stroke-linecap="butt"/>
<text transform="translate(973.10,575.90) scale(1.0,1)" font-size="11.1" text-anchor="middle" fill="#231f20">850</text>
<line x1="996.13" y1="557.70" x2="996.13" y2="564.70" stroke="#231f20" stroke-width="1.35" stroke-linecap="butt"/>
<line x1="1019.16" y1="557.70" x2="1019.16" y2="564.70" stroke="#231f20" stroke-width="1.35" stroke-linecap="butt"/>
<text transform="translate(1019.16,575.90) scale(1.0,1)" font-size="11.1" text-anchor="middle" fill="#231f20">852</text>
<line x1="1042.19" y1="557.70" x2="1042.19" y2="564.70" stroke="#231f20" stroke-width="1.35" stroke-linecap="butt"/>
<line x1="1065.22" y1="557.70" x2="1065.22" y2="564.70" stroke="#231f20" stroke-width="1.35" stroke-linecap="butt"/>
<text transform="translate(1065.22,575.90) scale(1.0,1)" font-size="11.1" text-anchor="middle" fill="#231f20">854</text>
<line x1="1088.25" y1="557.70" x2="1088.25" y2="564.70" stroke="#231f20" stroke-width="1.35" stroke-linecap="butt"/>
<line x1="1111.28" y1="557.70" x2="1111.28" y2="564.70" stroke="#231f20" stroke-width="1.35" stroke-linecap="butt"/>
<text transform="translate(1111.28,575.90) scale(1.0,1)" font-size="11.1" text-anchor="middle" fill="#231f20">856</text>
<line x1="1134.31" y1="557.70" x2="1134.31" y2="564.70" stroke="#231f20" stroke-width="1.35" stroke-linecap="butt"/>
<line x1="1157.34" y1="557.70" x2="1157.34" y2="564.70" stroke="#231f20" stroke-width="1.35" stroke-linecap="butt"/>
<text transform="translate(1157.34,575.90) scale(1.0,1)" font-size="11.1" text-anchor="middle" fill="#231f20">858</text>
<line x1="1180.37" y1="557.70" x2="1180.37" y2="564.70" stroke="#231f20" stroke-width="1.35" stroke-linecap="butt"/>
<line x1="1203.40" y1="557.70" x2="1203.40" y2="564.70" stroke="#231f20" stroke-width="1.35" stroke-linecap="butt"/>
<text transform="translate(1203.40,575.90) scale(1.0,1)" font-size="11.1" text-anchor="middle" fill="#231f20">860</text>
<text transform="translate(1211.70,558.60) scale(1.0,1)" font-size="11.1" text-anchor="start" font-style="italic" fill="#231f20">m/z</text>
<text transform="translate(980.60,332.60) scale(1.0,1)" font-size="11.1" text-anchor="start" fill="#231f20">851.3519</text>
<text transform="translate(950.10,375.80) scale(1.0,1)" font-size="11.1" text-anchor="start" fill="#231f20">851.0296</text>
<line x1="986.10" y1="380.00" x2="997.00" y2="390.90" stroke="#231f20" stroke-width="1.0" stroke-linecap="butt"/>
<text transform="translate(1011.60,401.60) scale(1.0,1)" font-size="11.1" text-anchor="start" fill="#231f20">851.6743</text>
<line x1="1023.00" y1="405.50" x2="1011.90" y2="417.30" stroke="#231f20" stroke-width="1.0" stroke-linecap="butt"/>
<text transform="translate(1019.50,477.60) scale(1.0,1)" font-size="11.1" text-anchor="start" fill="#231f20">852.0206</text>
<line x1="1031.60" y1="481.10" x2="1019.80" y2="493.50" stroke="#231f20" stroke-width="1.0" stroke-linecap="butt"/>
<text transform="translate(756.00,334.10) scale(1.0,1)" font-size="26.4" text-anchor="start" fill="#231f20">D.</text>
<text transform="translate(1094.10,346.60) scale(1.038,1)" font-size="15.3" text-anchor="start" fill="#231f20">[A2G2S1+NeuGc+3H]</text>
<text transform="translate(1252.90,342.80) scale(1.0,1)" font-size="10.9" text-anchor="start" fill="#4d4d4f">3</text>
<text transform="translate(1259.00,342.40) scale(1.0,1)" font-size="9.0" text-anchor="start" fill="#6d6e70">+</text>
<text transform="translate(1094.10,365.50) scale(1.045,1)" font-size="15.3" text-anchor="start" fill="#231f20">RT. 25.76 min</text>
<text transform="translate(1094.10,385.30) scale(1.045,1)" font-size="15.3" text-anchor="start" font-style="italic" fill="#231f20">m/z</text>
<text transform="translate(1196.40,385.30) scale(1.03,1)" font-size="15.3" text-anchor="end" fill="#231f20">851.03 Da</text>
</svg>
</body></html>
